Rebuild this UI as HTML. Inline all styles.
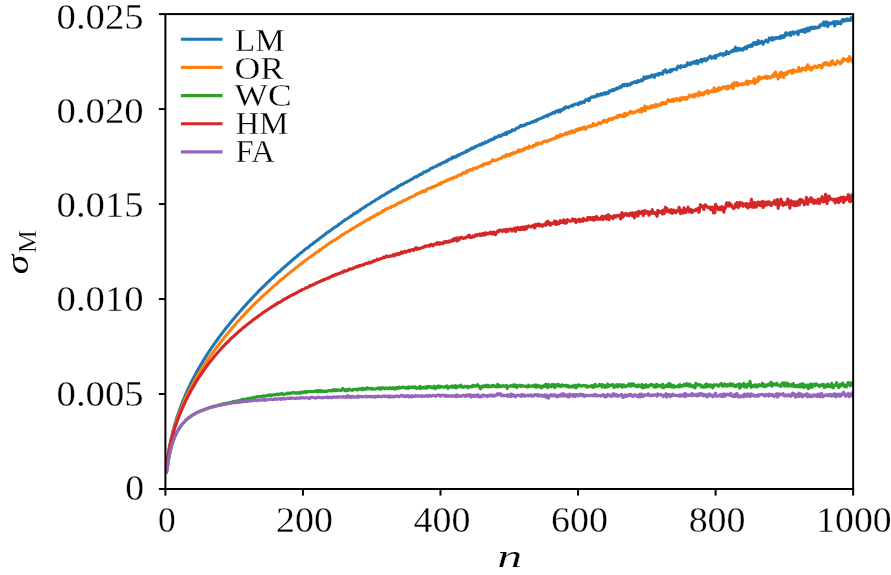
<!DOCTYPE html>
<html><head><meta charset="utf-8"><title>sigma_M vs n</title>
<style>
html,body{margin:0;padding:0;background:#fff;}
svg{display:block;}
text{font-family:"Liberation Serif","DejaVu Serif",serif;fill:#000;stroke:#fff;stroke-width:0.3px;}
</style></head><body>
<svg width="891" height="575" viewBox="0 0 891 575">
<rect width="891" height="575" fill="#fff"/>
<defs><clipPath id="ax"><rect x="165.4" y="14.1" width="687.75" height="474.9"/></clipPath></defs>
<g clip-path="url(#ax)" fill="none" stroke-width="3.1" stroke-linejoin="round" stroke-linecap="butt">
<path d="M166.1 472.5 L166.8 465.0 L167.5 459.3 L168.2 454.5 L168.8 450.3 L169.5 446.5 L170.2 443.0 L170.9 439.8 L171.6 436.8 L172.3 433.9 L173.0 431.2 L173.7 428.6 L174.3 426.1 L175.0 423.7 L175.7 421.4 L176.4 419.2 L177.1 417.0 L177.8 414.9 L178.5 412.9 L179.2 411.0 L179.8 409.0 L180.5 407.2 L181.2 405.3 L181.9 403.6 L182.6 401.8 L183.3 400.1 L184.0 398.4 L184.7 396.8 L185.3 395.2 L186.0 393.6 L186.7 392.1 L187.4 390.5 L188.1 389.0 L188.8 387.5 L189.5 386.1 L190.2 384.7 L190.8 383.2 L191.5 381.8 L192.2 380.5 L192.9 379.1 L193.6 377.8 L194.3 376.5 L195.0 375.2 L195.7 373.9 L196.3 372.6 L197.0 371.4 L197.7 370.1 L198.4 368.9 L199.1 367.7 L199.8 366.5 L200.5 365.3 L201.2 364.2 L201.9 363.0 L202.5 361.9 L203.2 360.7 L203.9 359.6 L204.6 358.5 L205.3 357.4 L206.0 356.3 L206.7 355.2 L207.4 354.2 L208.0 353.1 L208.7 352.1 L209.4 351.0 L210.1 350.0 L210.8 349.0 L211.5 347.9 L212.2 346.9 L212.9 346.0 L213.5 345.0 L214.2 344.0 L214.9 343.1 L215.6 342.1 L216.3 341.1 L217.0 340.1 L217.7 339.2 L218.4 338.3 L219.0 337.3 L219.7 336.4 L220.4 335.4 L221.1 334.6 L221.8 333.7 L222.5 332.7 L223.2 331.9 L223.9 331.0 L224.5 330.1 L225.2 329.2 L225.9 328.3 L226.6 327.4 L227.3 326.6 L228.0 325.7 L228.7 324.9 L229.4 324.1 L230.0 323.2 L230.7 322.4 L231.4 321.5 L232.1 320.7 L232.8 319.8 L233.5 319.1 L234.2 318.3 L234.9 317.4 L235.6 316.6 L236.2 315.8 L236.9 314.9 L237.6 314.2 L238.3 313.4 L239.0 312.6 L239.7 311.8 L240.4 311.0 L241.1 310.2 L241.7 309.4 L242.4 308.6 L243.1 307.9 L243.8 307.1 L244.5 306.3 L245.2 305.6 L245.9 304.8 L246.6 304.1 L247.2 303.3 L247.9 302.6 L248.6 301.8 L249.3 301.1 L250.0 300.3 L250.7 299.7 L251.4 298.9 L252.1 298.1 L252.7 297.5 L253.4 296.6 L254.1 296.1 L254.8 295.2 L255.5 294.6 L256.2 293.7 L256.9 293.1 L257.6 292.5 L258.2 291.6 L258.9 290.9 L259.6 290.3 L260.3 289.6 L261.0 288.9 L261.7 288.3 L262.4 287.5 L263.1 286.9 L263.7 286.2 L264.4 285.6 L265.1 284.9 L265.8 284.3 L266.5 283.4 L267.2 282.9 L267.9 282.1 L268.6 281.6 L269.3 281.0 L269.9 280.3 L270.6 279.7 L271.3 279.0 L272.0 278.3 L272.7 277.7 L273.4 277.1 L274.1 276.4 L274.8 275.6 L275.4 275.1 L276.1 274.5 L276.8 273.8 L277.5 273.1 L278.2 272.7 L278.9 272.0 L279.6 271.4 L280.3 270.9 L280.9 270.0 L281.6 269.5 L282.3 268.8 L283.0 268.3 L283.7 267.6 L284.4 267.1 L285.1 266.4 L285.8 265.9 L286.4 265.3 L287.1 264.5 L287.8 264.1 L288.5 263.4 L289.2 262.8 L289.9 262.3 L290.6 261.7 L291.3 261.0 L291.9 260.5 L292.6 259.9 L293.3 259.3 L294.0 258.6 L294.7 258.0 L295.4 257.5 L296.1 257.0 L296.8 256.6 L297.4 255.8 L298.1 255.2 L298.8 254.7 L299.5 254.0 L300.2 253.5 L300.9 252.9 L301.6 252.3 L302.3 251.9 L303.0 251.1 L303.6 250.9 L304.3 250.1 L305.0 249.6 L305.7 249.1 L306.4 248.4 L307.1 247.9 L307.8 247.7 L308.5 247.2 L309.1 246.3 L309.8 246.0 L310.5 245.3 L311.2 244.7 L311.9 244.5 L312.6 244.0 L313.3 243.1 L314.0 242.7 L314.6 242.2 L315.3 241.6 L316.0 241.2 L316.7 240.8 L317.4 240.1 L318.1 239.7 L318.8 239.2 L319.5 238.4 L320.1 238.0 L320.8 237.4 L321.5 237.0 L322.2 236.5 L322.9 236.0 L323.6 235.5 L324.3 234.8 L325.0 234.5 L325.6 233.8 L326.3 233.3 L327.0 232.5 L327.7 232.5 L328.4 231.7 L329.1 231.4 L329.8 230.9 L330.5 230.6 L331.1 230.0 L331.8 229.3 L332.5 228.9 L333.2 228.4 L333.9 228.0 L334.6 227.3 L335.3 227.0 L336.0 226.8 L336.6 226.1 L337.3 225.8 L338.0 225.5 L338.7 224.5 L339.4 223.8 L340.1 223.5 L340.8 223.2 L341.5 222.8 L342.2 221.9 L342.8 221.5 L343.5 221.1 L344.2 220.6 L344.9 220.2 L345.6 219.5 L346.3 219.2 L347.0 218.8 L347.7 218.5 L348.3 217.8 L349.0 217.5 L349.7 216.7 L350.4 216.6 L351.1 216.0 L351.8 215.5 L352.5 215.3 L353.2 214.3 L353.8 213.8 L354.5 213.8 L355.2 213.1 L355.9 212.7 L356.6 212.9 L357.3 211.8 L358.0 211.5 L358.7 211.0 L359.3 210.8 L360.0 210.1 L360.7 209.7 L361.4 209.0 L362.1 208.7 L362.8 208.3 L363.5 207.5 L364.2 207.4 L364.8 206.9 L365.5 206.8 L366.2 205.7 L366.9 205.4 L367.6 205.0 L368.3 204.6 L369.0 204.3 L369.7 203.9 L370.3 203.5 L371.0 203.1 L371.7 202.6 L372.4 201.9 L373.1 201.6 L373.8 201.3 L374.5 201.0 L375.2 200.5 L375.9 199.6 L376.5 199.4 L377.2 199.1 L377.9 198.7 L378.6 198.5 L379.3 197.8 L380.0 197.1 L380.7 197.0 L381.4 196.5 L382.0 196.1 L382.7 195.6 L383.4 195.6 L384.1 194.9 L384.8 194.7 L385.5 193.9 L386.2 193.9 L386.9 193.2 L387.5 192.5 L388.2 192.6 L388.9 192.2 L389.6 191.6 L390.3 191.2 L391.0 191.1 L391.7 190.3 L392.4 189.5 L393.0 189.7 L393.7 189.3 L394.4 189.1 L395.1 188.3 L395.8 188.4 L396.5 187.9 L397.2 186.9 L397.9 187.1 L398.5 186.1 L399.2 185.7 L399.9 185.6 L400.6 185.1 L401.3 184.4 L402.0 184.6 L402.7 184.3 L403.4 184.1 L404.0 183.3 L404.7 182.6 L405.4 182.3 L406.1 182.5 L406.8 182.1 L407.5 181.6 L408.2 181.1 L408.9 180.9 L409.6 180.4 L410.2 180.0 L410.9 179.7 L411.6 179.3 L412.3 178.9 L413.0 178.5 L413.7 178.0 L414.4 177.1 L415.1 177.1 L415.7 176.9 L416.4 177.1 L417.1 176.0 L417.8 176.3 L418.5 175.8 L419.2 174.8 L419.9 174.4 L420.6 174.4 L421.2 174.4 L421.9 173.6 L422.6 173.4 L423.3 172.7 L424.0 171.8 L424.7 172.0 L425.4 172.0 L426.1 171.8 L426.7 171.0 L427.4 170.8 L428.1 170.8 L428.8 170.0 L429.5 170.0 L430.2 168.9 L430.9 168.5 L431.6 168.1 L432.2 168.3 L432.9 167.5 L433.6 167.3 L434.3 167.1 L435.0 166.7 L435.7 166.7 L436.4 166.4 L437.1 165.3 L437.7 165.3 L438.4 164.9 L439.1 164.3 L439.8 164.9 L440.5 164.2 L441.2 163.6 L441.9 163.2 L442.6 163.1 L443.3 162.3 L443.9 162.2 L444.6 162.3 L445.3 161.9 L446.0 161.0 L446.7 160.7 L447.4 161.2 L448.1 159.7 L448.8 159.6 L449.4 159.0 L450.1 159.3 L450.8 158.9 L451.5 158.8 L452.2 157.2 L452.9 157.9 L453.6 156.9 L454.3 157.4 L454.9 156.8 L455.6 157.2 L456.3 156.3 L457.0 155.5 L457.7 156.0 L458.4 154.7 L459.1 154.7 L459.8 154.9 L460.4 154.2 L461.1 153.8 L461.8 153.4 L462.5 153.2 L463.2 153.1 L463.9 152.5 L464.6 152.4 L465.3 152.2 L465.9 151.4 L466.6 150.6 L467.3 151.3 L468.0 150.3 L468.7 150.3 L469.4 150.2 L470.1 149.1 L470.8 149.2 L471.4 148.1 L472.1 148.7 L472.8 147.9 L473.5 147.9 L474.2 147.7 L474.9 146.8 L475.6 146.7 L476.3 146.1 L477.0 145.9 L477.6 146.0 L478.3 145.3 L479.0 145.0 L479.7 144.3 L480.4 144.8 L481.1 144.1 L481.8 144.6 L482.5 143.3 L483.1 143.7 L483.8 143.7 L484.5 142.7 L485.2 141.9 L485.9 142.6 L486.6 142.2 L487.3 141.8 L488.0 141.6 L488.6 140.6 L489.3 140.8 L490.0 140.5 L490.7 139.6 L491.4 139.9 L492.1 139.0 L492.8 139.4 L493.5 139.1 L494.1 139.0 L494.8 137.0 L495.5 137.7 L496.2 137.2 L496.9 137.1 L497.6 136.8 L498.3 136.5 L499.0 135.4 L499.6 136.4 L500.3 136.3 L501.0 135.9 L501.7 135.6 L502.4 134.4 L503.1 134.1 L503.8 134.6 L504.5 134.6 L505.1 133.8 L505.8 132.7 L506.5 134.4 L507.2 132.4 L507.9 132.8 L508.6 131.5 L509.3 132.3 L510.0 131.6 L510.7 131.8 L511.3 131.4 L512.0 129.8 L512.7 129.8 L513.4 130.1 L514.1 130.0 L514.8 130.1 L515.5 129.1 L516.2 128.5 L516.8 128.2 L517.5 127.9 L518.2 128.0 L518.9 127.2 L519.6 126.8 L520.3 125.9 L521.0 125.3 L521.7 126.1 L522.3 126.1 L523.0 125.4 L523.7 125.5 L524.4 125.3 L525.1 124.6 L525.8 124.8 L526.5 123.8 L527.2 123.9 L527.8 123.4 L528.5 123.4 L529.2 123.3 L529.9 123.3 L530.6 122.6 L531.3 122.5 L532.0 121.7 L532.7 121.7 L533.3 122.0 L534.0 121.0 L534.7 121.4 L535.4 120.8 L536.1 120.4 L536.8 120.9 L537.5 119.5 L538.2 119.2 L538.8 119.1 L539.5 119.0 L540.2 118.6 L540.9 118.5 L541.6 117.9 L542.3 117.9 L543.0 117.2 L543.7 117.5 L544.4 116.4 L545.0 116.1 L545.7 116.1 L546.4 116.0 L547.1 115.2 L547.8 116.3 L548.5 114.7 L549.2 114.6 L549.9 114.2 L550.5 113.8 L551.2 114.2 L551.9 113.6 L552.6 112.7 L553.3 112.5 L554.0 112.5 L554.7 113.2 L555.4 111.7 L556.0 111.1 L556.7 111.0 L557.4 111.1 L558.1 111.8 L558.8 110.2 L559.5 110.6 L560.2 111.8 L560.9 109.8 L561.5 110.6 L562.2 110.1 L562.9 109.4 L563.6 108.2 L564.3 108.8 L565.0 108.1 L565.7 106.9 L566.4 106.7 L567.0 107.5 L567.7 107.4 L568.4 107.7 L569.1 107.1 L569.8 106.4 L570.5 106.0 L571.2 106.0 L571.9 105.2 L572.5 106.1 L573.2 105.5 L573.9 104.8 L574.6 104.6 L575.3 104.0 L576.0 104.3 L576.7 104.3 L577.4 103.7 L578.0 104.4 L578.7 104.4 L579.4 102.7 L580.1 102.9 L580.8 102.2 L581.5 103.3 L582.2 102.1 L582.9 102.0 L583.6 101.8 L584.2 102.4 L584.9 100.8 L585.6 99.9 L586.3 99.8 L587.0 100.3 L587.7 99.7 L588.4 98.7 L589.1 100.7 L589.7 98.8 L590.4 97.9 L591.1 97.5 L591.8 96.7 L592.5 96.8 L593.2 97.2 L593.9 96.8 L594.6 96.2 L595.2 96.9 L595.9 96.4 L596.6 95.5 L597.3 94.5 L598.0 95.8 L598.7 95.4 L599.4 95.2 L600.1 94.2 L600.7 94.9 L601.4 93.6 L602.1 95.0 L602.8 94.3 L603.5 94.0 L604.2 93.0 L604.9 92.6 L605.6 94.2 L606.2 93.7 L606.9 92.5 L607.6 93.0 L608.3 93.3 L609.0 91.1 L609.7 91.1 L610.4 90.7 L611.1 91.2 L611.7 90.0 L612.4 90.5 L613.1 89.3 L613.8 90.4 L614.5 90.1 L615.2 89.0 L615.9 89.3 L616.6 88.1 L617.3 88.1 L617.9 88.7 L618.6 87.8 L619.3 87.8 L620.0 86.6 L620.7 87.6 L621.4 87.0 L622.1 85.6 L622.8 84.6 L623.4 84.6 L624.1 85.8 L624.8 85.3 L625.5 84.1 L626.2 85.3 L626.9 85.8 L627.6 84.8 L628.3 84.1 L628.9 84.8 L629.6 85.1 L630.3 84.8 L631.0 83.0 L631.7 83.8 L632.4 82.9 L633.1 82.5 L633.8 82.0 L634.4 82.4 L635.1 81.7 L635.8 82.5 L636.5 81.9 L637.2 82.5 L637.9 80.5 L638.6 81.1 L639.3 81.4 L639.9 81.0 L640.6 80.5 L641.3 79.6 L642.0 81.0 L642.7 80.2 L643.4 79.5 L644.1 76.9 L644.8 78.0 L645.4 78.6 L646.1 77.8 L646.8 76.5 L647.5 78.0 L648.2 77.8 L648.9 76.4 L649.6 76.8 L650.3 76.4 L651.0 77.2 L651.6 75.1 L652.3 75.0 L653.0 75.7 L653.7 75.4 L654.4 77.4 L655.1 74.8 L655.8 75.1 L656.5 74.4 L657.1 74.0 L657.8 74.3 L658.5 75.2 L659.2 73.4 L659.9 74.0 L660.6 73.5 L661.3 73.4 L662.0 73.0 L662.6 74.2 L663.3 71.2 L664.0 71.7 L664.7 70.9 L665.4 69.8 L666.1 71.3 L666.8 72.7 L667.5 71.6 L668.1 71.5 L668.8 70.9 L669.5 70.3 L670.2 72.0 L670.9 69.8 L671.6 71.1 L672.3 69.4 L673.0 69.6 L673.6 69.6 L674.3 69.2 L675.0 69.3 L675.7 69.0 L676.4 69.9 L677.1 68.3 L677.8 66.5 L678.5 66.0 L679.1 66.5 L679.8 66.8 L680.5 67.9 L681.2 65.7 L681.9 66.8 L682.6 66.6 L683.3 66.5 L684.0 65.9 L684.7 66.3 L685.3 65.7 L686.0 66.3 L686.7 65.5 L687.4 62.8 L688.1 64.5 L688.8 64.6 L689.5 63.8 L690.2 63.2 L690.8 64.5 L691.5 63.5 L692.2 62.4 L692.9 62.9 L693.6 62.9 L694.3 61.5 L695.0 63.3 L695.7 62.5 L696.3 62.9 L697.0 60.7 L697.7 63.7 L698.4 62.3 L699.1 61.8 L699.8 60.4 L700.5 60.3 L701.2 59.3 L701.8 61.9 L702.5 59.3 L703.2 60.0 L703.9 60.3 L704.6 58.9 L705.3 60.0 L706.0 60.8 L706.7 58.8 L707.3 59.5 L708.0 58.6 L708.7 57.5 L709.4 57.5 L710.1 56.0 L710.8 57.5 L711.5 58.3 L712.2 57.3 L712.8 57.6 L713.5 57.8 L714.2 56.0 L714.9 56.9 L715.6 58.1 L716.3 55.4 L717.0 55.9 L717.7 55.2 L718.4 55.3 L719.0 54.5 L719.7 54.9 L720.4 53.6 L721.1 54.3 L721.8 54.2 L722.5 53.8 L723.2 55.6 L723.9 54.1 L724.5 53.9 L725.2 53.2 L725.9 54.5 L726.6 51.4 L727.3 52.5 L728.0 53.5 L728.7 53.7 L729.4 52.3 L730.0 52.1 L730.7 52.3 L731.4 51.1 L732.1 51.6 L732.8 50.0 L733.5 51.2 L734.2 50.3 L734.9 49.1 L735.5 47.2 L736.2 50.9 L736.9 50.0 L737.6 50.0 L738.3 48.3 L739.0 50.3 L739.7 49.4 L740.4 48.8 L741.0 49.8 L741.7 49.5 L742.4 48.7 L743.1 50.2 L743.8 49.1 L744.5 47.8 L745.2 47.1 L745.9 47.2 L746.5 48.8 L747.2 47.3 L747.9 45.7 L748.6 45.8 L749.3 46.3 L750.0 46.7 L750.7 44.8 L751.4 45.8 L752.1 46.2 L752.7 45.5 L753.4 42.8 L754.1 43.9 L754.8 42.5 L755.5 44.3 L756.2 42.6 L756.9 44.3 L757.6 43.7 L758.2 40.6 L758.9 42.0 L759.6 43.3 L760.3 42.7 L761.0 42.1 L761.7 41.1 L762.4 42.9 L763.1 44.1 L763.7 42.5 L764.4 41.9 L765.1 41.6 L765.8 40.2 L766.5 41.2 L767.2 40.6 L767.9 42.2 L768.6 40.0 L769.2 38.1 L769.9 39.3 L770.6 39.7 L771.3 39.8 L772.0 37.6 L772.7 40.2 L773.4 39.2 L774.1 38.4 L774.7 37.8 L775.4 38.9 L776.1 37.6 L776.8 38.2 L777.5 37.5 L778.2 37.8 L778.9 38.4 L779.6 37.1 L780.2 36.3 L780.9 38.2 L781.6 37.2 L782.3 35.7 L783.0 37.5 L783.7 35.9 L784.4 37.1 L785.1 34.2 L785.8 32.7 L786.4 32.7 L787.1 35.0 L787.8 33.8 L788.5 34.4 L789.2 34.3 L789.9 32.6 L790.6 35.6 L791.3 32.8 L791.9 33.8 L792.6 31.8 L793.3 33.1 L794.0 34.0 L794.7 32.8 L795.4 32.0 L796.1 32.5 L796.8 31.8 L797.4 32.7 L798.1 34.6 L798.8 30.8 L799.5 31.1 L800.2 31.4 L800.9 31.3 L801.6 30.1 L802.3 31.5 L802.9 31.5 L803.6 31.2 L804.3 29.3 L805.0 32.5 L805.7 29.0 L806.4 30.6 L807.1 31.1 L807.8 28.1 L808.4 29.6 L809.1 30.8 L809.8 29.4 L810.5 27.5 L811.2 27.2 L811.9 28.7 L812.6 27.7 L813.3 27.1 L813.9 28.5 L814.6 27.0 L815.3 27.5 L816.0 28.1 L816.7 27.9 L817.4 27.1 L818.1 26.8 L818.8 27.6 L819.5 27.1 L820.1 24.9 L820.8 25.8 L821.5 24.7 L822.2 23.9 L822.9 24.5 L823.6 22.1 L824.3 25.8 L825.0 23.3 L825.6 25.0 L826.3 21.9 L827.0 22.0 L827.7 26.6 L828.4 25.3 L829.1 23.4 L829.8 23.1 L830.5 23.1 L831.1 23.9 L831.8 23.3 L832.5 22.5 L833.2 23.3 L833.9 21.7 L834.6 25.9 L835.3 22.1 L836.0 24.2 L836.6 21.5 L837.3 22.8 L838.0 23.5 L838.7 21.9 L839.4 23.4 L840.1 23.3 L840.8 23.9 L841.5 21.3 L842.1 20.3 L842.8 19.5 L843.5 21.1 L844.2 19.6 L844.9 21.0 L845.6 20.7 L846.3 19.7 L847.0 18.8 L847.6 20.6 L848.3 20.2 L849.0 19.6 L849.7 19.2 L850.4 20.4 L851.1 17.7 L851.8 19.3 L852.5 18.1 L853.1 19.8" stroke="#1f77b4"/>
<path d="M166.1 472.8 L166.8 465.3 L167.5 459.7 L168.2 455.0 L168.8 450.9 L169.5 447.2 L170.2 443.9 L170.9 440.8 L171.6 437.9 L172.3 435.2 L173.0 432.6 L173.7 430.1 L174.3 427.8 L175.0 425.6 L175.7 423.4 L176.4 421.3 L177.1 419.3 L177.8 417.4 L178.5 415.5 L179.2 413.6 L179.8 411.8 L180.5 410.1 L181.2 408.4 L181.9 406.7 L182.6 405.1 L183.3 403.5 L184.0 402.0 L184.7 400.5 L185.3 399.0 L186.0 397.5 L186.7 396.0 L187.4 394.6 L188.1 393.2 L188.8 391.9 L189.5 390.5 L190.2 389.1 L190.8 387.8 L191.5 386.5 L192.2 385.2 L192.9 384.0 L193.6 382.8 L194.3 381.5 L195.0 380.3 L195.7 379.1 L196.3 377.9 L197.0 376.7 L197.7 375.6 L198.4 374.4 L199.1 373.3 L199.8 372.1 L200.5 371.0 L201.2 369.9 L201.9 368.8 L202.5 367.7 L203.2 366.6 L203.9 365.6 L204.6 364.5 L205.3 363.5 L206.0 362.5 L206.7 361.4 L207.4 360.4 L208.0 359.4 L208.7 358.4 L209.4 357.4 L210.1 356.4 L210.8 355.4 L211.5 354.5 L212.2 353.5 L212.9 352.6 L213.5 351.6 L214.2 350.6 L214.9 349.7 L215.6 348.8 L216.3 347.8 L217.0 346.9 L217.7 346.1 L218.4 345.1 L219.0 344.2 L219.7 343.3 L220.4 342.4 L221.1 341.6 L221.8 340.7 L222.5 339.8 L223.2 339.0 L223.9 338.1 L224.5 337.2 L225.2 336.3 L225.9 335.5 L226.6 334.8 L227.3 333.9 L228.0 333.0 L228.7 332.2 L229.4 331.4 L230.0 330.6 L230.7 329.7 L231.4 328.9 L232.1 328.2 L232.8 327.2 L233.5 326.4 L234.2 325.7 L234.9 324.9 L235.6 324.2 L236.2 323.3 L236.9 322.6 L237.6 321.8 L238.3 321.0 L239.0 320.3 L239.7 319.5 L240.4 318.7 L241.1 318.0 L241.7 317.3 L242.4 316.7 L243.1 315.8 L243.8 315.2 L244.5 314.3 L245.2 313.5 L245.9 312.8 L246.6 312.2 L247.2 311.5 L247.9 310.7 L248.6 310.0 L249.3 309.3 L250.0 308.6 L250.7 307.8 L251.4 307.2 L252.1 306.4 L252.7 305.8 L253.4 305.1 L254.1 304.5 L254.8 303.7 L255.5 303.0 L256.2 302.4 L256.9 301.8 L257.6 301.2 L258.2 300.3 L258.9 299.8 L259.6 299.2 L260.3 298.4 L261.0 297.7 L261.7 297.1 L262.4 296.6 L263.1 295.7 L263.7 295.2 L264.4 294.6 L265.1 294.0 L265.8 293.5 L266.5 292.9 L267.2 292.1 L267.9 291.5 L268.6 290.9 L269.3 290.4 L269.9 289.8 L270.6 289.0 L271.3 288.5 L272.0 287.7 L272.7 287.1 L273.4 286.3 L274.1 285.9 L274.8 285.4 L275.4 284.9 L276.1 284.5 L276.8 283.6 L277.5 283.0 L278.2 282.3 L278.9 281.7 L279.6 281.1 L280.3 280.6 L280.9 279.9 L281.6 279.3 L282.3 278.9 L283.0 278.3 L283.7 277.8 L284.4 276.9 L285.1 276.4 L285.8 275.9 L286.4 275.5 L287.1 274.8 L287.8 274.3 L288.5 273.7 L289.2 273.2 L289.9 272.5 L290.6 272.1 L291.3 271.4 L291.9 270.9 L292.6 270.4 L293.3 269.8 L294.0 269.4 L294.7 268.7 L295.4 268.2 L296.1 267.6 L296.8 267.2 L297.4 266.8 L298.1 265.9 L298.8 265.6 L299.5 264.8 L300.2 264.4 L300.9 264.1 L301.6 263.5 L302.3 262.9 L303.0 262.4 L303.6 261.9 L304.3 261.2 L305.0 260.8 L305.7 260.2 L306.4 259.8 L307.1 259.2 L307.8 258.9 L308.5 258.3 L309.1 257.7 L309.8 257.3 L310.5 256.8 L311.2 256.4 L311.9 255.7 L312.6 255.2 L313.3 254.8 L314.0 254.4 L314.6 253.7 L315.3 252.9 L316.0 252.9 L316.7 252.3 L317.4 251.8 L318.1 251.8 L318.8 250.8 L319.5 250.5 L320.1 249.6 L320.8 249.4 L321.5 249.0 L322.2 248.4 L322.9 247.9 L323.6 247.5 L324.3 247.0 L325.0 246.7 L325.6 246.1 L326.3 245.5 L327.0 244.8 L327.7 244.5 L328.4 244.1 L329.1 243.5 L329.8 243.0 L330.5 242.5 L331.1 242.1 L331.8 241.8 L332.5 241.3 L333.2 240.8 L333.9 240.4 L334.6 240.0 L335.3 239.7 L336.0 239.5 L336.6 238.8 L337.3 238.6 L338.0 237.8 L338.7 237.4 L339.4 237.2 L340.1 236.3 L340.8 235.9 L341.5 235.6 L342.2 234.8 L342.8 234.3 L343.5 234.5 L344.2 233.6 L344.9 233.3 L345.6 232.8 L346.3 232.3 L347.0 232.2 L347.7 231.7 L348.3 231.4 L349.0 230.9 L349.7 230.4 L350.4 230.3 L351.1 229.7 L351.8 229.0 L352.5 228.6 L353.2 228.1 L353.8 228.1 L354.5 227.5 L355.2 227.1 L355.9 226.5 L356.6 226.3 L357.3 225.6 L358.0 225.5 L358.7 225.0 L359.3 224.6 L360.0 224.0 L360.7 223.8 L361.4 223.1 L362.1 222.8 L362.8 222.5 L363.5 222.2 L364.2 221.7 L364.8 221.1 L365.5 220.7 L366.2 220.5 L366.9 220.0 L367.6 219.8 L368.3 219.1 L369.0 219.0 L369.7 219.1 L370.3 217.9 L371.0 217.8 L371.7 217.7 L372.4 217.1 L373.1 216.9 L373.8 215.8 L374.5 215.8 L375.2 215.9 L375.9 215.0 L376.5 214.8 L377.2 213.8 L377.9 214.2 L378.6 214.1 L379.3 213.2 L380.0 212.9 L380.7 212.6 L381.4 212.6 L382.0 211.5 L382.7 210.7 L383.4 211.3 L384.1 210.2 L384.8 210.2 L385.5 209.1 L386.2 209.3 L386.9 209.1 L387.5 208.4 L388.2 208.2 L388.9 208.2 L389.6 207.5 L390.3 207.5 L391.0 207.5 L391.7 206.1 L392.4 206.4 L393.0 206.2 L393.7 205.5 L394.4 205.7 L395.1 205.3 L395.8 204.7 L396.5 204.5 L397.2 203.9 L397.9 203.3 L398.5 203.4 L399.2 202.8 L399.9 202.4 L400.6 202.6 L401.3 201.9 L402.0 201.9 L402.7 200.8 L403.4 200.7 L404.0 200.5 L404.7 200.5 L405.4 199.8 L406.1 199.8 L406.8 199.0 L407.5 198.9 L408.2 198.8 L408.9 197.9 L409.6 197.6 L410.2 197.7 L410.9 196.9 L411.6 197.0 L412.3 196.7 L413.0 196.2 L413.7 196.2 L414.4 195.8 L415.1 195.3 L415.7 194.3 L416.4 194.0 L417.1 194.3 L417.8 193.4 L418.5 193.6 L419.2 193.1 L419.9 192.7 L420.6 192.5 L421.2 191.5 L421.9 191.9 L422.6 192.1 L423.3 190.8 L424.0 191.1 L424.7 190.8 L425.4 191.5 L426.1 189.7 L426.7 189.4 L427.4 189.1 L428.1 188.8 L428.8 188.2 L429.5 188.5 L430.2 187.8 L430.9 188.1 L431.6 187.7 L432.2 186.8 L432.9 186.8 L433.6 187.2 L434.3 186.2 L435.0 186.1 L435.7 186.0 L436.4 185.2 L437.1 185.1 L437.7 185.2 L438.4 184.7 L439.1 183.4 L439.8 184.4 L440.5 183.3 L441.2 182.8 L441.9 182.4 L442.6 182.9 L443.3 182.3 L443.9 181.8 L444.6 181.2 L445.3 181.5 L446.0 181.4 L446.7 180.2 L447.4 179.8 L448.1 179.9 L448.8 179.9 L449.4 179.3 L450.1 179.1 L450.8 178.4 L451.5 178.9 L452.2 178.1 L452.9 178.0 L453.6 178.1 L454.3 177.2 L454.9 177.0 L455.6 177.0 L456.3 176.4 L457.0 176.9 L457.7 176.0 L458.4 175.4 L459.1 175.1 L459.8 174.6 L460.4 175.2 L461.1 175.0 L461.8 174.0 L462.5 173.6 L463.2 172.5 L463.9 172.8 L464.6 173.1 L465.3 172.2 L465.9 172.6 L466.6 172.7 L467.3 170.6 L468.0 171.3 L468.7 170.7 L469.4 170.4 L470.1 169.5 L470.8 169.9 L471.4 169.3 L472.1 170.0 L472.8 169.9 L473.5 168.4 L474.2 168.0 L474.9 168.3 L475.6 168.2 L476.3 168.0 L477.0 168.2 L477.6 167.0 L478.3 167.0 L479.0 166.8 L479.7 166.5 L480.4 165.8 L481.1 165.7 L481.8 165.4 L482.5 165.9 L483.1 164.8 L483.8 163.7 L484.5 164.7 L485.2 164.4 L485.9 163.6 L486.6 163.3 L487.3 163.2 L488.0 164.0 L488.6 162.7 L489.3 163.2 L490.0 162.6 L490.7 161.7 L491.4 161.7 L492.1 160.9 L492.8 159.6 L493.5 160.4 L494.1 160.2 L494.8 160.8 L495.5 160.3 L496.2 160.3 L496.9 159.8 L497.6 159.8 L498.3 159.2 L499.0 158.7 L499.6 158.8 L500.3 158.8 L501.0 158.5 L501.7 157.4 L502.4 157.3 L503.1 156.4 L503.8 156.2 L504.5 156.6 L505.1 155.9 L505.8 156.7 L506.5 154.5 L507.2 154.7 L507.9 155.2 L508.6 155.6 L509.3 154.5 L510.0 155.5 L510.7 154.4 L511.3 153.4 L512.0 153.5 L512.7 153.6 L513.4 152.6 L514.1 153.5 L514.8 152.5 L515.5 152.6 L516.2 152.5 L516.8 151.6 L517.5 152.2 L518.2 150.2 L518.9 151.4 L519.6 149.8 L520.3 151.2 L521.0 150.1 L521.7 150.9 L522.3 150.6 L523.0 149.5 L523.7 148.9 L524.4 149.8 L525.1 148.0 L525.8 148.8 L526.5 148.0 L527.2 147.7 L527.8 147.3 L528.5 148.4 L529.2 146.1 L529.9 146.6 L530.6 146.8 L531.3 147.0 L532.0 147.2 L532.7 146.9 L533.3 145.4 L534.0 145.6 L534.7 145.8 L535.4 145.2 L536.1 143.7 L536.8 144.7 L537.5 144.6 L538.2 143.0 L538.8 143.3 L539.5 143.3 L540.2 143.4 L540.9 143.8 L541.6 143.3 L542.3 142.6 L543.0 142.1 L543.7 141.5 L544.4 141.2 L545.0 141.1 L545.7 140.9 L546.4 141.3 L547.1 141.7 L547.8 140.5 L548.5 140.7 L549.2 140.2 L549.9 139.7 L550.5 140.1 L551.2 140.0 L551.9 139.2 L552.6 138.7 L553.3 139.0 L554.0 138.1 L554.7 138.2 L555.4 138.4 L556.0 137.5 L556.7 136.0 L557.4 137.5 L558.1 135.9 L558.8 135.4 L559.5 135.1 L560.2 136.5 L560.9 134.5 L561.5 135.5 L562.2 135.5 L562.9 135.2 L563.6 134.4 L564.3 134.5 L565.0 134.3 L565.7 133.1 L566.4 134.3 L567.0 134.3 L567.7 132.6 L568.4 132.6 L569.1 132.1 L569.8 133.3 L570.5 131.6 L571.2 131.8 L571.9 130.9 L572.5 132.6 L573.2 131.3 L573.9 131.3 L574.6 132.0 L575.3 131.1 L576.0 129.7 L576.7 130.5 L577.4 130.6 L578.0 129.2 L578.7 128.8 L579.4 128.5 L580.1 129.6 L580.8 128.8 L581.5 127.9 L582.2 128.9 L582.9 128.8 L583.6 127.6 L584.2 126.8 L584.9 128.5 L585.6 129.3 L586.3 128.2 L587.0 127.7 L587.7 126.8 L588.4 126.2 L589.1 126.5 L589.7 126.7 L590.4 125.9 L591.1 126.5 L591.8 125.6 L592.5 125.9 L593.2 123.4 L593.9 124.5 L594.6 125.4 L595.2 125.2 L595.9 124.5 L596.6 125.0 L597.3 124.1 L598.0 123.9 L598.7 122.5 L599.4 123.4 L600.1 123.5 L600.7 123.6 L601.4 123.2 L602.1 122.2 L602.8 122.1 L603.5 120.7 L604.2 121.8 L604.9 120.3 L605.6 120.7 L606.2 120.7 L606.9 122.1 L607.6 121.3 L608.3 119.5 L609.0 118.8 L609.7 119.5 L610.4 118.6 L611.1 119.4 L611.7 119.2 L612.4 119.2 L613.1 117.8 L613.8 118.1 L614.5 118.2 L615.2 117.9 L615.9 117.0 L616.6 116.9 L617.3 117.6 L617.9 115.3 L618.6 116.3 L619.3 116.4 L620.0 115.0 L620.7 115.1 L621.4 115.8 L622.1 115.0 L622.8 116.4 L623.4 115.7 L624.1 116.6 L624.8 113.4 L625.5 115.9 L626.2 113.7 L626.9 114.7 L627.6 114.8 L628.3 113.8 L628.9 113.3 L629.6 112.7 L630.3 111.4 L631.0 112.7 L631.7 112.0 L632.4 113.1 L633.1 112.0 L633.8 112.3 L634.4 112.6 L635.1 112.0 L635.8 111.9 L636.5 111.4 L637.2 110.7 L637.9 111.3 L638.6 111.2 L639.3 109.8 L639.9 111.8 L640.6 110.6 L641.3 108.5 L642.0 111.9 L642.7 109.7 L643.4 108.3 L644.1 110.1 L644.8 106.1 L645.4 110.7 L646.1 107.1 L646.8 106.9 L647.5 107.3 L648.2 108.1 L648.9 107.4 L649.6 108.1 L650.3 106.3 L651.0 107.7 L651.6 106.9 L652.3 105.5 L653.0 107.1 L653.7 106.5 L654.4 105.8 L655.1 106.9 L655.8 104.4 L656.5 104.8 L657.1 106.2 L657.8 104.9 L658.5 105.4 L659.2 105.2 L659.9 104.3 L660.6 105.0 L661.3 103.1 L662.0 104.4 L662.6 102.6 L663.3 103.4 L664.0 102.6 L664.7 103.5 L665.4 103.3 L666.1 103.6 L666.8 101.8 L667.5 101.2 L668.1 99.7 L668.8 100.3 L669.5 101.0 L670.2 101.5 L670.9 100.7 L671.6 101.0 L672.3 99.4 L673.0 99.8 L673.6 101.3 L674.3 100.8 L675.0 98.9 L675.7 99.7 L676.4 100.2 L677.1 98.5 L677.8 99.9 L678.5 99.6 L679.1 99.6 L679.8 100.8 L680.5 97.8 L681.2 99.7 L681.9 98.9 L682.6 99.1 L683.3 97.4 L684.0 97.9 L684.7 97.8 L685.3 99.1 L686.0 97.6 L686.7 99.1 L687.4 97.3 L688.1 97.0 L688.8 97.2 L689.5 94.9 L690.2 96.2 L690.8 95.8 L691.5 96.1 L692.2 96.4 L692.9 95.2 L693.6 94.6 L694.3 97.1 L695.0 94.5 L695.7 94.6 L696.3 93.9 L697.0 94.3 L697.7 95.9 L698.4 95.5 L699.1 92.0 L699.8 93.6 L700.5 95.0 L701.2 93.0 L701.8 93.4 L702.5 94.6 L703.2 95.0 L703.9 94.3 L704.6 92.2 L705.3 92.1 L706.0 92.1 L706.7 91.3 L707.3 90.5 L708.0 93.4 L708.7 91.3 L709.4 91.8 L710.1 92.1 L710.8 91.2 L711.5 90.4 L712.2 90.5 L712.8 91.7 L713.5 90.8 L714.2 87.9 L714.9 91.1 L715.6 91.5 L716.3 89.4 L717.0 88.9 L717.7 88.7 L718.4 90.3 L719.0 87.7 L719.7 89.4 L720.4 89.7 L721.1 89.2 L721.8 88.3 L722.5 87.2 L723.2 87.0 L723.9 87.8 L724.5 86.8 L725.2 87.9 L725.9 86.9 L726.6 89.0 L727.3 88.9 L728.0 86.1 L728.7 88.3 L729.4 86.8 L730.0 86.4 L730.7 86.6 L731.4 86.4 L732.1 84.4 L732.8 88.7 L733.5 84.4 L734.2 82.7 L734.9 85.1 L735.5 85.1 L736.2 84.1 L736.9 82.5 L737.6 85.8 L738.3 84.3 L739.0 84.9 L739.7 83.9 L740.4 84.4 L741.0 83.8 L741.7 84.7 L742.4 83.8 L743.1 84.7 L743.8 84.3 L744.5 83.4 L745.2 83.3 L745.9 84.1 L746.5 81.0 L747.2 82.9 L747.9 84.3 L748.6 81.3 L749.3 83.1 L750.0 81.6 L750.7 82.2 L751.4 81.7 L752.1 81.5 L752.7 82.2 L753.4 81.1 L754.1 78.6 L754.8 83.7 L755.5 80.8 L756.2 80.1 L756.9 81.8 L757.6 81.9 L758.2 77.1 L758.9 80.1 L759.6 76.9 L760.3 78.4 L761.0 78.8 L761.7 78.3 L762.4 78.1 L763.1 77.2 L763.7 77.8 L764.4 78.0 L765.1 77.8 L765.8 76.0 L766.5 76.3 L767.2 78.6 L767.9 78.0 L768.6 76.7 L769.2 77.6 L769.9 77.1 L770.6 77.8 L771.3 76.9 L772.0 76.1 L772.7 75.2 L773.4 76.4 L774.1 73.5 L774.7 76.2 L775.4 72.0 L776.1 74.7 L776.8 75.3 L777.5 76.2 L778.2 79.0 L778.9 75.3 L779.6 74.9 L780.2 72.5 L780.9 76.7 L781.6 72.4 L782.3 75.0 L783.0 73.5 L783.7 77.4 L784.4 73.8 L785.1 74.1 L785.8 72.6 L786.4 73.1 L787.1 74.4 L787.8 71.5 L788.5 71.8 L789.2 71.7 L789.9 71.1 L790.6 70.7 L791.3 71.8 L791.9 73.3 L792.6 73.3 L793.3 69.8 L794.0 70.5 L794.7 71.2 L795.4 71.6 L796.1 70.9 L796.8 70.8 L797.4 71.0 L798.1 71.4 L798.8 67.5 L799.5 69.6 L800.2 70.4 L800.9 71.1 L801.6 70.2 L802.3 68.4 L802.9 68.1 L803.6 69.3 L804.3 68.8 L805.0 69.2 L805.7 70.2 L806.4 66.9 L807.1 67.9 L807.8 64.7 L808.4 68.9 L809.1 68.3 L809.8 67.0 L810.5 68.6 L811.2 70.1 L811.9 69.3 L812.6 67.6 L813.3 67.2 L813.9 67.6 L814.6 66.0 L815.3 66.1 L816.0 67.1 L816.7 67.5 L817.4 67.4 L818.1 66.3 L818.8 65.4 L819.5 66.1 L820.1 65.5 L820.8 66.4 L821.5 67.9 L822.2 67.2 L822.9 64.4 L823.6 64.7 L824.3 62.8 L825.0 64.6 L825.6 63.3 L826.3 62.5 L827.0 62.9 L827.7 65.0 L828.4 64.5 L829.1 63.8 L829.8 65.3 L830.5 63.2 L831.1 61.9 L831.8 64.1 L832.5 60.7 L833.2 63.7 L833.9 63.8 L834.6 63.9 L835.3 64.7 L836.0 63.0 L836.6 63.4 L837.3 60.8 L838.0 61.9 L838.7 61.7 L839.4 62.4 L840.1 63.9 L840.8 62.0 L841.5 62.7 L842.1 60.1 L842.8 61.5 L843.5 58.6 L844.2 59.7 L844.9 59.4 L845.6 60.1 L846.3 59.9 L847.0 59.4 L847.6 59.0 L848.3 61.5 L849.0 59.6 L849.7 56.4 L850.4 60.0 L851.1 60.1 L851.8 60.8 L852.5 61.8 L853.1 58.0" stroke="#ff7f0e"/>
<path d="M166.1 473.4 L166.8 471.4 L167.5 466.7 L168.2 462.3 L168.8 458.2 L169.5 454.7 L170.2 451.5 L170.9 448.6 L171.6 446.1 L172.3 443.8 L173.0 441.7 L173.7 439.7 L174.3 437.9 L175.0 436.3 L175.7 434.8 L176.4 433.3 L177.1 432.1 L177.8 430.8 L178.5 429.5 L179.2 428.5 L179.8 427.5 L180.5 426.5 L181.2 425.5 L181.9 424.5 L182.6 423.7 L183.3 422.9 L184.0 422.4 L184.7 421.5 L185.3 420.8 L186.0 420.1 L186.7 419.5 L187.4 418.9 L188.1 418.2 L188.8 417.7 L189.5 417.3 L190.2 416.8 L190.8 416.1 L191.5 415.9 L192.2 415.2 L192.9 414.7 L193.6 414.6 L194.3 414.1 L195.0 413.8 L195.7 413.3 L196.3 413.0 L197.0 412.5 L197.7 412.3 L198.4 412.0 L199.1 411.5 L199.8 411.4 L200.5 411.1 L201.2 410.5 L201.9 410.6 L202.5 410.3 L203.2 410.0 L203.9 409.8 L204.6 409.7 L205.3 409.0 L206.0 409.0 L206.7 408.7 L207.4 408.5 L208.0 408.3 L208.7 408.1 L209.4 407.7 L210.1 407.2 L210.8 407.2 L211.5 406.9 L212.2 407.1 L212.9 406.6 L213.5 406.6 L214.2 406.1 L214.9 406.1 L215.6 405.9 L216.3 405.7 L217.0 405.6 L217.7 405.6 L218.4 405.0 L219.0 405.2 L219.7 405.0 L220.4 404.6 L221.1 404.6 L221.8 404.2 L222.5 403.9 L223.2 403.9 L223.9 403.8 L224.5 403.7 L225.2 403.4 L225.9 403.7 L226.6 403.1 L227.3 403.2 L228.0 403.2 L228.7 402.8 L229.4 402.8 L230.0 402.5 L230.7 402.3 L231.4 402.8 L232.1 402.2 L232.8 401.6 L233.5 401.7 L234.2 401.3 L234.9 401.5 L235.6 401.7 L236.2 401.4 L236.9 400.9 L237.6 400.7 L238.3 400.9 L239.0 400.6 L239.7 400.3 L240.4 400.7 L241.1 400.2 L241.7 399.6 L242.4 399.4 L243.1 399.8 L243.8 399.2 L244.5 399.6 L245.2 399.6 L245.9 399.8 L246.6 398.9 L247.2 399.1 L247.9 398.3 L248.6 398.7 L249.3 398.5 L250.0 398.9 L250.7 397.9 L251.4 398.2 L252.1 398.0 L252.7 398.3 L253.4 397.5 L254.1 397.3 L254.8 397.5 L255.5 397.2 L256.2 397.0 L256.9 396.7 L257.6 396.9 L258.2 396.3 L258.9 396.7 L259.6 396.7 L260.3 396.6 L261.0 397.0 L261.7 396.5 L262.4 395.9 L263.1 396.0 L263.7 396.2 L264.4 395.8 L265.1 396.4 L265.8 395.9 L266.5 395.6 L267.2 395.5 L267.9 395.8 L268.6 395.1 L269.3 394.8 L269.9 395.3 L270.6 394.9 L271.3 395.4 L272.0 395.5 L272.7 394.7 L273.4 394.8 L274.1 394.7 L274.8 394.9 L275.4 394.7 L276.1 394.4 L276.8 394.1 L277.5 394.6 L278.2 394.9 L278.9 394.0 L279.6 394.1 L280.3 394.0 L280.9 394.1 L281.6 393.4 L282.3 394.1 L283.0 393.9 L283.7 394.7 L284.4 394.1 L285.1 394.2 L285.8 393.9 L286.4 393.6 L287.1 393.9 L287.8 392.9 L288.5 393.7 L289.2 393.4 L289.9 393.0 L290.6 393.5 L291.3 392.8 L291.9 392.8 L292.6 393.0 L293.3 392.3 L294.0 392.9 L294.7 392.7 L295.4 393.1 L296.1 393.3 L296.8 392.9 L297.4 392.7 L298.1 392.7 L298.8 392.3 L299.5 393.4 L300.2 393.0 L300.9 393.2 L301.6 392.0 L302.3 392.5 L303.0 392.4 L303.6 392.5 L304.3 391.7 L305.0 392.1 L305.7 391.9 L306.4 392.7 L307.1 391.6 L307.8 391.8 L308.5 391.6 L309.1 391.3 L309.8 391.7 L310.5 391.7 L311.2 391.4 L311.9 391.5 L312.6 391.7 L313.3 391.5 L314.0 391.6 L314.6 391.1 L315.3 391.0 L316.0 391.3 L316.7 390.6 L317.4 391.9 L318.1 391.4 L318.8 390.5 L319.5 391.3 L320.1 391.8 L320.8 390.6 L321.5 391.0 L322.2 391.6 L322.9 390.8 L323.6 391.5 L324.3 391.6 L325.0 391.1 L325.6 391.2 L326.3 391.5 L327.0 391.0 L327.7 391.2 L328.4 390.7 L329.1 390.6 L329.8 390.3 L330.5 390.7 L331.1 391.0 L331.8 390.9 L332.5 390.4 L333.2 389.6 L333.9 389.9 L334.6 390.5 L335.3 389.7 L336.0 390.7 L336.6 389.8 L337.3 390.4 L338.0 389.9 L338.7 390.0 L339.4 390.3 L340.1 390.0 L340.8 390.6 L341.5 390.2 L342.2 389.7 L342.8 388.4 L343.5 389.9 L344.2 390.2 L344.9 390.6 L345.6 389.6 L346.3 390.8 L347.0 390.4 L347.7 389.6 L348.3 390.3 L349.0 389.1 L349.7 389.3 L350.4 390.0 L351.1 390.0 L351.8 390.3 L352.5 390.4 L353.2 389.4 L353.8 389.2 L354.5 389.4 L355.2 389.4 L355.9 389.7 L356.6 389.2 L357.3 390.0 L358.0 389.2 L358.7 388.7 L359.3 388.7 L360.0 389.4 L360.7 389.2 L361.4 388.4 L362.1 388.2 L362.8 389.8 L363.5 389.3 L364.2 389.0 L364.8 388.5 L365.5 389.4 L366.2 388.6 L366.9 389.0 L367.6 387.7 L368.3 388.5 L369.0 388.8 L369.7 388.9 L370.3 388.3 L371.0 388.3 L371.7 389.2 L372.4 388.4 L373.1 389.2 L373.8 388.9 L374.5 389.1 L375.2 389.3 L375.9 388.9 L376.5 388.9 L377.2 388.2 L377.9 388.0 L378.6 388.5 L379.3 388.8 L380.0 387.8 L380.7 389.3 L381.4 389.2 L382.0 387.9 L382.7 388.0 L383.4 387.8 L384.1 388.4 L384.8 388.9 L385.5 388.5 L386.2 387.8 L386.9 388.5 L387.5 388.4 L388.2 388.8 L388.9 388.6 L389.6 387.5 L390.3 387.8 L391.0 388.6 L391.7 388.6 L392.4 388.3 L393.0 387.7 L393.7 388.5 L394.4 387.9 L395.1 389.1 L395.8 388.5 L396.5 387.6 L397.2 387.3 L397.9 388.4 L398.5 388.1 L399.2 387.2 L399.9 387.8 L400.6 388.0 L401.3 387.5 L402.0 387.6 L402.7 387.0 L403.4 387.1 L404.0 387.9 L404.7 387.6 L405.4 387.5 L406.1 388.3 L406.8 388.1 L407.5 387.1 L408.2 388.4 L408.9 386.9 L409.6 387.4 L410.2 387.7 L410.9 387.3 L411.6 387.2 L412.3 386.8 L413.0 387.8 L413.7 387.6 L414.4 387.8 L415.1 386.7 L415.7 387.2 L416.4 388.3 L417.1 387.9 L417.8 388.2 L418.5 387.7 L419.2 387.5 L419.9 386.3 L420.6 388.7 L421.2 387.0 L421.9 387.2 L422.6 387.8 L423.3 387.4 L424.0 387.9 L424.7 387.6 L425.4 387.0 L426.1 388.4 L426.7 386.8 L427.4 387.7 L428.1 386.5 L428.8 387.2 L429.5 386.6 L430.2 387.1 L430.9 386.8 L431.6 387.3 L432.2 387.9 L432.9 387.0 L433.6 387.0 L434.3 386.1 L435.0 388.7 L435.7 387.5 L436.4 386.7 L437.1 388.0 L437.7 387.3 L438.4 385.9 L439.1 386.3 L439.8 387.6 L440.5 386.2 L441.2 386.4 L441.9 386.6 L442.6 386.7 L443.3 386.9 L443.9 387.5 L444.6 387.3 L445.3 386.5 L446.0 386.9 L446.7 385.8 L447.4 387.1 L448.1 388.4 L448.8 387.2 L449.4 386.6 L450.1 386.7 L450.8 386.8 L451.5 387.4 L452.2 385.8 L452.9 387.1 L453.6 386.2 L454.3 386.8 L454.9 387.4 L455.6 385.6 L456.3 388.0 L457.0 387.0 L457.7 386.1 L458.4 386.6 L459.1 385.9 L459.8 386.6 L460.4 386.8 L461.1 385.2 L461.8 386.9 L462.5 386.8 L463.2 387.5 L463.9 387.2 L464.6 386.3 L465.3 386.3 L465.9 386.6 L466.6 387.1 L467.3 386.2 L468.0 387.8 L468.7 386.9 L469.4 386.7 L470.1 387.0 L470.8 386.3 L471.4 386.8 L472.1 386.9 L472.8 385.3 L473.5 386.0 L474.2 385.6 L474.9 386.4 L475.6 385.7 L476.3 385.7 L477.0 385.5 L477.6 384.6 L478.3 386.4 L479.0 386.2 L479.7 386.5 L480.4 388.9 L481.1 387.4 L481.8 386.5 L482.5 386.1 L483.1 387.0 L483.8 385.8 L484.5 385.7 L485.2 386.7 L485.9 385.4 L486.6 385.1 L487.3 386.0 L488.0 387.0 L488.6 385.3 L489.3 386.3 L490.0 386.7 L490.7 386.3 L491.4 386.8 L492.1 385.5 L492.8 385.8 L493.5 385.4 L494.1 385.8 L494.8 386.8 L495.5 386.6 L496.2 385.8 L496.9 386.9 L497.6 384.3 L498.3 386.7 L499.0 386.7 L499.6 385.5 L500.3 385.8 L501.0 386.4 L501.7 386.6 L502.4 386.1 L503.1 385.6 L503.8 385.7 L504.5 386.4 L505.1 385.9 L505.8 385.6 L506.5 385.4 L507.2 388.4 L507.9 386.7 L508.6 386.5 L509.3 386.3 L510.0 386.1 L510.7 385.6 L511.3 385.7 L512.0 386.3 L512.7 386.2 L513.4 384.8 L514.1 386.6 L514.8 385.9 L515.5 384.9 L516.2 385.7 L516.8 387.6 L517.5 385.6 L518.2 386.2 L518.9 386.1 L519.6 385.2 L520.3 385.6 L521.0 386.3 L521.7 385.4 L522.3 385.9 L523.0 386.2 L523.7 385.9 L524.4 386.0 L525.1 386.4 L525.8 386.5 L526.5 386.0 L527.2 386.7 L527.8 387.1 L528.5 385.2 L529.2 386.4 L529.9 386.2 L530.6 386.3 L531.3 386.0 L532.0 386.0 L532.7 385.9 L533.3 386.6 L534.0 385.2 L534.7 386.5 L535.4 385.0 L536.1 387.3 L536.8 386.7 L537.5 385.2 L538.2 386.2 L538.8 386.6 L539.5 386.0 L540.2 387.1 L540.9 386.1 L541.6 388.0 L542.3 386.7 L543.0 386.6 L543.7 385.5 L544.4 385.2 L545.0 386.5 L545.7 384.3 L546.4 386.3 L547.1 387.2 L547.8 387.6 L548.5 384.4 L549.2 385.9 L549.9 386.3 L550.5 386.5 L551.2 386.8 L551.9 384.7 L552.6 385.8 L553.3 384.3 L554.0 385.8 L554.7 387.7 L555.4 384.9 L556.0 386.0 L556.7 385.9 L557.4 384.4 L558.1 385.9 L558.8 384.7 L559.5 385.8 L560.2 386.5 L560.9 385.4 L561.5 386.3 L562.2 384.9 L562.9 385.2 L563.6 386.0 L564.3 385.5 L565.0 385.5 L565.7 386.2 L566.4 385.2 L567.0 386.2 L567.7 385.6 L568.4 387.2 L569.1 386.2 L569.8 386.1 L570.5 387.1 L571.2 386.9 L571.9 386.8 L572.5 385.8 L573.2 387.0 L573.9 386.0 L574.6 385.1 L575.3 386.2 L576.0 387.8 L576.7 386.2 L577.4 385.2 L578.0 386.1 L578.7 384.9 L579.4 385.3 L580.1 385.4 L580.8 386.0 L581.5 386.3 L582.2 386.1 L582.9 385.6 L583.6 385.4 L584.2 385.5 L584.9 386.0 L585.6 385.7 L586.3 385.5 L587.0 387.3 L587.7 386.6 L588.4 386.7 L589.1 386.1 L589.7 386.2 L590.4 386.2 L591.1 386.7 L591.8 385.4 L592.5 385.7 L593.2 387.4 L593.9 385.9 L594.6 386.9 L595.2 384.3 L595.9 386.3 L596.6 386.3 L597.3 386.0 L598.0 386.2 L598.7 385.9 L599.4 384.3 L600.1 385.6 L600.7 385.0 L601.4 384.9 L602.1 387.1 L602.8 384.7 L603.5 385.6 L604.2 385.5 L604.9 387.3 L605.6 385.6 L606.2 386.0 L606.9 387.0 L607.6 384.1 L608.3 385.6 L609.0 386.3 L609.7 385.8 L610.4 385.2 L611.1 384.8 L611.7 385.4 L612.4 385.0 L613.1 384.7 L613.8 387.3 L614.5 386.3 L615.2 386.9 L615.9 386.0 L616.6 384.7 L617.3 385.3 L617.9 386.8 L618.6 386.0 L619.3 384.5 L620.0 386.0 L620.7 385.6 L621.4 385.1 L622.1 387.2 L622.8 384.8 L623.4 385.3 L624.1 385.1 L624.8 386.7 L625.5 386.6 L626.2 386.6 L626.9 385.7 L627.6 386.0 L628.3 385.7 L628.9 383.9 L629.6 384.2 L630.3 386.2 L631.0 386.2 L631.7 383.8 L632.4 385.7 L633.1 384.1 L633.8 384.0 L634.4 385.9 L635.1 385.8 L635.8 385.4 L636.5 386.6 L637.2 386.7 L637.9 386.1 L638.6 384.9 L639.3 386.2 L639.9 385.9 L640.6 386.1 L641.3 386.8 L642.0 384.4 L642.7 388.0 L643.4 386.3 L644.1 385.3 L644.8 387.4 L645.4 385.3 L646.1 384.7 L646.8 386.8 L647.5 385.7 L648.2 387.0 L648.9 385.3 L649.6 385.8 L650.3 385.6 L651.0 384.3 L651.6 385.2 L652.3 384.6 L653.0 385.2 L653.7 386.9 L654.4 385.6 L655.1 385.2 L655.8 387.3 L656.5 384.3 L657.1 385.6 L657.8 385.1 L658.5 386.4 L659.2 385.6 L659.9 385.3 L660.6 385.9 L661.3 385.4 L662.0 387.5 L662.6 384.2 L663.3 386.6 L664.0 387.6 L664.7 386.4 L665.4 386.4 L666.1 385.1 L666.8 386.5 L667.5 385.2 L668.1 386.6 L668.8 383.5 L669.5 385.0 L670.2 383.8 L670.9 386.8 L671.6 385.1 L672.3 387.0 L673.0 385.4 L673.6 385.3 L674.3 387.3 L675.0 386.6 L675.7 386.6 L676.4 386.8 L677.1 385.9 L677.8 386.3 L678.5 386.9 L679.1 385.1 L679.8 384.7 L680.5 386.7 L681.2 386.0 L681.9 385.4 L682.6 385.8 L683.3 386.1 L684.0 384.4 L684.7 384.5 L685.3 384.8 L686.0 385.7 L686.7 383.7 L687.4 384.0 L688.1 386.0 L688.8 385.4 L689.5 384.0 L690.2 386.3 L690.8 384.9 L691.5 385.6 L692.2 386.5 L692.9 385.7 L693.6 387.0 L694.3 386.2 L695.0 387.9 L695.7 383.3 L696.3 384.1 L697.0 384.4 L697.7 385.3 L698.4 384.6 L699.1 384.6 L699.8 384.7 L700.5 384.9 L701.2 386.9 L701.8 385.6 L702.5 386.6 L703.2 387.3 L703.9 387.1 L704.6 385.5 L705.3 384.6 L706.0 387.2 L706.7 383.9 L707.3 384.5 L708.0 386.6 L708.7 386.5 L709.4 385.6 L710.1 384.6 L710.8 386.2 L711.5 386.9 L712.2 385.3 L712.8 387.9 L713.5 385.5 L714.2 384.6 L714.9 385.5 L715.6 384.9 L716.3 384.9 L717.0 384.7 L717.7 385.4 L718.4 386.3 L719.0 385.5 L719.7 385.3 L720.4 384.0 L721.1 383.5 L721.8 384.7 L722.5 386.1 L723.2 386.3 L723.9 385.6 L724.5 383.9 L725.2 384.9 L725.9 385.3 L726.6 386.2 L727.3 384.5 L728.0 385.3 L728.7 385.8 L729.4 385.6 L730.0 383.9 L730.7 385.8 L731.4 383.9 L732.1 384.3 L732.8 385.7 L733.5 384.5 L734.2 385.6 L734.9 386.5 L735.5 385.7 L736.2 386.4 L736.9 384.9 L737.6 385.2 L738.3 384.5 L739.0 384.0 L739.7 388.3 L740.4 384.4 L741.0 386.8 L741.7 384.8 L742.4 385.9 L743.1 384.8 L743.8 383.4 L744.5 386.9 L745.2 384.9 L745.9 385.4 L746.5 387.3 L747.2 384.3 L747.9 385.0 L748.6 385.6 L749.3 385.7 L750.0 381.4 L750.7 385.6 L751.4 387.4 L752.1 386.2 L752.7 385.5 L753.4 385.7 L754.1 385.6 L754.8 386.7 L755.5 384.7 L756.2 385.9 L756.9 387.0 L757.6 386.3 L758.2 386.0 L758.9 384.5 L759.6 384.8 L760.3 385.9 L761.0 385.6 L761.7 385.3 L762.4 383.2 L763.1 386.3 L763.7 384.9 L764.4 384.6 L765.1 386.7 L765.8 385.4 L766.5 385.4 L767.2 385.9 L767.9 384.5 L768.6 384.1 L769.2 383.8 L769.9 385.2 L770.6 384.8 L771.3 382.2 L772.0 386.2 L772.7 384.4 L773.4 383.8 L774.1 384.7 L774.7 384.1 L775.4 384.8 L776.1 383.9 L776.8 383.2 L777.5 385.2 L778.2 384.8 L778.9 385.1 L779.6 385.7 L780.2 385.2 L780.9 386.5 L781.6 384.3 L782.3 383.1 L783.0 382.8 L783.7 383.3 L784.4 386.1 L785.1 382.9 L785.8 385.7 L786.4 385.0 L787.1 383.0 L787.8 386.3 L788.5 384.0 L789.2 384.6 L789.9 385.2 L790.6 386.1 L791.3 384.7 L791.9 385.9 L792.6 384.0 L793.3 383.7 L794.0 386.6 L794.7 385.7 L795.4 385.6 L796.1 386.8 L796.8 386.5 L797.4 385.2 L798.1 385.4 L798.8 387.0 L799.5 385.7 L800.2 384.3 L800.9 386.8 L801.6 386.5 L802.3 383.6 L802.9 383.9 L803.6 387.5 L804.3 387.2 L805.0 384.9 L805.7 386.8 L806.4 385.7 L807.1 386.0 L807.8 385.0 L808.4 388.8 L809.1 388.0 L809.8 386.9 L810.5 384.0 L811.2 385.5 L811.9 387.3 L812.6 384.5 L813.3 384.3 L813.9 385.8 L814.6 385.9 L815.3 384.7 L816.0 383.8 L816.7 385.0 L817.4 384.6 L818.1 385.6 L818.8 385.9 L819.5 386.5 L820.1 385.1 L820.8 385.8 L821.5 385.7 L822.2 384.3 L822.9 384.8 L823.6 384.3 L824.3 387.7 L825.0 385.0 L825.6 386.5 L826.3 386.8 L827.0 386.8 L827.7 384.2 L828.4 384.5 L829.1 386.3 L829.8 386.7 L830.5 385.5 L831.1 386.2 L831.8 383.3 L832.5 387.3 L833.2 387.9 L833.9 385.8 L834.6 385.4 L835.3 385.1 L836.0 384.2 L836.6 382.7 L837.3 385.8 L838.0 386.1 L838.7 387.6 L839.4 385.3 L840.1 384.5 L840.8 386.1 L841.5 384.0 L842.1 385.2 L842.8 383.0 L843.5 384.4 L844.2 386.3 L844.9 385.6 L845.6 386.8 L846.3 387.0 L847.0 384.6 L847.6 383.9 L848.3 382.4 L849.0 384.8 L849.7 385.0 L850.4 385.8 L851.1 382.7 L851.8 383.8 L852.5 385.2 L853.1 383.7" stroke="#2ca02c"/>
<path d="M166.1 471.5 L166.8 464.7 L167.5 459.6 L168.2 455.2 L168.8 451.4 L169.5 448.0 L170.2 444.8 L170.9 441.9 L171.6 439.2 L172.3 436.6 L173.0 434.1 L173.7 431.8 L174.3 429.6 L175.0 427.4 L175.7 425.3 L176.4 423.3 L177.1 421.4 L177.8 419.5 L178.5 417.7 L179.2 415.9 L179.8 414.2 L180.5 412.5 L181.2 410.8 L181.9 409.2 L182.6 407.7 L183.3 406.1 L184.0 404.6 L184.7 403.1 L185.3 401.7 L186.0 400.2 L186.7 398.9 L187.4 397.5 L188.1 396.1 L188.8 394.8 L189.5 393.5 L190.2 392.2 L190.8 390.9 L191.5 389.7 L192.2 388.5 L192.9 387.3 L193.6 386.1 L194.3 384.9 L195.0 383.7 L195.7 382.6 L196.3 381.5 L197.0 380.4 L197.7 379.2 L198.4 378.2 L199.1 377.1 L199.8 376.0 L200.5 375.0 L201.2 374.0 L201.9 373.0 L202.5 372.0 L203.2 371.0 L203.9 370.0 L204.6 369.1 L205.3 368.1 L206.0 367.1 L206.7 366.2 L207.4 365.3 L208.0 364.4 L208.7 363.5 L209.4 362.5 L210.1 361.7 L210.8 360.8 L211.5 360.0 L212.2 359.1 L212.9 358.3 L213.5 357.5 L214.2 356.6 L214.9 355.7 L215.6 355.0 L216.3 354.1 L217.0 353.4 L217.7 352.5 L218.4 351.9 L219.0 351.0 L219.7 350.3 L220.4 349.5 L221.1 348.8 L221.8 348.0 L222.5 347.2 L223.2 346.5 L223.9 345.9 L224.5 345.1 L225.2 344.4 L225.9 343.7 L226.6 342.9 L227.3 342.4 L228.0 341.7 L228.7 341.1 L229.4 340.3 L230.0 339.7 L230.7 338.7 L231.4 338.3 L232.1 337.5 L232.8 336.9 L233.5 336.4 L234.2 335.7 L234.9 335.0 L235.6 334.5 L236.2 333.8 L236.9 333.2 L237.6 332.7 L238.3 332.0 L239.0 331.3 L239.7 330.7 L240.4 330.3 L241.1 329.6 L241.7 329.0 L242.4 328.4 L243.1 327.8 L243.8 327.3 L244.5 326.7 L245.2 326.3 L245.9 325.7 L246.6 325.0 L247.2 324.6 L247.9 323.9 L248.6 323.5 L249.3 323.0 L250.0 322.3 L250.7 321.9 L251.4 321.4 L252.1 320.8 L252.7 320.2 L253.4 319.4 L254.1 319.4 L254.8 318.7 L255.5 318.2 L256.2 317.6 L256.9 317.2 L257.6 317.0 L258.2 316.0 L258.9 315.8 L259.6 315.1 L260.3 314.8 L261.0 314.3 L261.7 313.7 L262.4 313.1 L263.1 312.6 L263.7 312.3 L264.4 311.7 L265.1 311.4 L265.8 310.8 L266.5 310.4 L267.2 309.9 L267.9 309.6 L268.6 309.1 L269.3 308.6 L269.9 308.1 L270.6 307.8 L271.3 307.0 L272.0 306.9 L272.7 306.3 L273.4 305.9 L274.1 305.4 L274.8 305.4 L275.4 304.4 L276.1 304.3 L276.8 304.0 L277.5 303.4 L278.2 302.6 L278.9 302.5 L279.6 302.4 L280.3 301.9 L280.9 301.2 L281.6 301.2 L282.3 300.6 L283.0 300.2 L283.7 299.4 L284.4 299.4 L285.1 298.7 L285.8 298.6 L286.4 298.3 L287.1 297.6 L287.8 297.2 L288.5 297.3 L289.2 296.5 L289.9 296.1 L290.6 295.9 L291.3 295.4 L291.9 295.0 L292.6 294.8 L293.3 294.5 L294.0 294.1 L294.7 293.7 L295.4 293.5 L296.1 293.0 L296.8 292.9 L297.4 292.2 L298.1 291.9 L298.8 291.7 L299.5 291.0 L300.2 290.4 L300.9 290.2 L301.6 290.4 L302.3 289.5 L303.0 289.4 L303.6 289.2 L304.3 288.9 L305.0 288.5 L305.7 287.8 L306.4 287.7 L307.1 287.6 L307.8 287.3 L308.5 286.9 L309.1 286.3 L309.8 285.7 L310.5 286.1 L311.2 285.4 L311.9 285.3 L312.6 285.1 L313.3 284.4 L314.0 284.1 L314.6 284.3 L315.3 283.8 L316.0 283.0 L316.7 282.9 L317.4 282.5 L318.1 282.4 L318.8 282.1 L319.5 281.5 L320.1 281.4 L320.8 281.3 L321.5 280.7 L322.2 280.2 L322.9 280.4 L323.6 279.6 L324.3 279.4 L325.0 279.6 L325.6 279.1 L326.3 278.8 L327.0 278.3 L327.7 278.0 L328.4 278.3 L329.1 278.0 L329.8 277.0 L330.5 276.9 L331.1 276.6 L331.8 276.3 L332.5 275.6 L333.2 276.1 L333.9 275.2 L334.6 275.6 L335.3 274.8 L336.0 274.3 L336.6 274.8 L337.3 274.0 L338.0 273.9 L338.7 273.6 L339.4 273.2 L340.1 273.3 L340.8 273.0 L341.5 272.2 L342.2 271.9 L342.8 272.1 L343.5 272.2 L344.2 270.7 L344.9 270.9 L345.6 270.9 L346.3 271.1 L347.0 270.7 L347.7 270.2 L348.3 270.2 L349.0 269.1 L349.7 269.3 L350.4 268.9 L351.1 269.2 L351.8 268.9 L352.5 268.7 L353.2 268.1 L353.8 268.0 L354.5 267.7 L355.2 267.3 L355.9 267.1 L356.6 266.4 L357.3 266.8 L358.0 266.9 L358.7 266.3 L359.3 265.5 L360.0 266.0 L360.7 265.6 L361.4 265.5 L362.1 265.0 L362.8 264.8 L363.5 265.0 L364.2 264.6 L364.8 263.9 L365.5 263.6 L366.2 263.4 L366.9 263.2 L367.6 263.4 L368.3 263.1 L369.0 262.4 L369.7 262.9 L370.3 262.3 L371.0 262.8 L371.7 262.0 L372.4 261.7 L373.1 261.7 L373.8 260.7 L374.5 261.1 L375.2 260.7 L375.9 260.3 L376.5 260.3 L377.2 259.1 L377.9 259.7 L378.6 259.2 L379.3 259.6 L380.0 259.0 L380.7 258.8 L381.4 258.6 L382.0 258.4 L382.7 257.9 L383.4 257.1 L384.1 257.6 L384.8 257.5 L385.5 257.4 L386.2 255.9 L386.9 256.2 L387.5 256.5 L388.2 256.2 L388.9 256.7 L389.6 256.3 L390.3 255.9 L391.0 255.8 L391.7 256.1 L392.4 255.8 L393.0 254.9 L393.7 254.8 L394.4 255.9 L395.1 254.6 L395.8 253.9 L396.5 254.7 L397.2 254.0 L397.9 254.7 L398.5 253.4 L399.2 254.2 L399.9 254.0 L400.6 253.3 L401.3 251.8 L402.0 253.0 L402.7 253.2 L403.4 252.0 L404.0 252.0 L404.7 251.2 L405.4 252.3 L406.1 252.3 L406.8 251.5 L407.5 250.9 L408.2 250.7 L408.9 250.2 L409.6 251.4 L410.2 250.9 L410.9 250.3 L411.6 249.6 L412.3 249.7 L413.0 250.0 L413.7 250.4 L414.4 249.0 L415.1 248.9 L415.7 247.8 L416.4 249.1 L417.1 247.9 L417.8 249.3 L418.5 248.7 L419.2 248.6 L419.9 248.3 L420.6 248.4 L421.2 247.9 L421.9 247.5 L422.6 247.7 L423.3 246.9 L424.0 247.1 L424.7 247.0 L425.4 245.8 L426.1 246.3 L426.7 246.1 L427.4 246.1 L428.1 245.8 L428.8 245.5 L429.5 246.2 L430.2 244.8 L430.9 244.4 L431.6 244.5 L432.2 245.3 L432.9 245.9 L433.6 245.0 L434.3 244.5 L435.0 243.8 L435.7 244.3 L436.4 244.1 L437.1 242.7 L437.7 244.1 L438.4 242.9 L439.1 242.8 L439.8 244.2 L440.5 242.9 L441.2 243.2 L441.9 243.3 L442.6 243.8 L443.3 243.4 L443.9 241.9 L444.6 242.3 L445.3 241.7 L446.0 242.4 L446.7 241.6 L447.4 241.5 L448.1 242.1 L448.8 242.2 L449.4 240.7 L450.1 240.7 L450.8 241.6 L451.5 240.8 L452.2 240.0 L452.9 239.1 L453.6 240.8 L454.3 239.5 L454.9 238.3 L455.6 239.6 L456.3 238.2 L457.0 241.0 L457.7 237.9 L458.4 238.8 L459.1 240.0 L459.8 237.9 L460.4 237.6 L461.1 237.3 L461.8 237.4 L462.5 238.2 L463.2 238.5 L463.9 238.3 L464.6 237.9 L465.3 237.5 L465.9 238.0 L466.6 237.3 L467.3 236.4 L468.0 236.7 L468.7 235.2 L469.4 235.1 L470.1 237.5 L470.8 236.8 L471.4 237.5 L472.1 237.2 L472.8 235.9 L473.5 236.9 L474.2 236.8 L474.9 236.0 L475.6 234.9 L476.3 235.7 L477.0 235.7 L477.6 234.5 L478.3 234.6 L479.0 234.5 L479.7 234.0 L480.4 235.6 L481.1 234.4 L481.8 235.0 L482.5 233.6 L483.1 233.7 L483.8 235.2 L484.5 233.1 L485.2 234.9 L485.9 232.8 L486.6 233.3 L487.3 233.9 L488.0 234.2 L488.6 233.3 L489.3 232.8 L490.0 233.1 L490.7 232.1 L491.4 233.8 L492.1 232.5 L492.8 232.4 L493.5 234.1 L494.1 232.0 L494.8 233.3 L495.5 234.6 L496.2 232.8 L496.9 232.3 L497.6 231.1 L498.3 232.1 L499.0 230.2 L499.6 230.1 L500.3 230.4 L501.0 230.2 L501.7 231.0 L502.4 231.6 L503.1 230.3 L503.8 229.6 L504.5 230.2 L505.1 230.8 L505.8 231.8 L506.5 229.4 L507.2 229.8 L507.9 231.4 L508.6 229.9 L509.3 229.1 L510.0 229.9 L510.7 229.0 L511.3 229.0 L512.0 231.1 L512.7 230.0 L513.4 229.1 L514.1 228.6 L514.8 228.0 L515.5 231.4 L516.2 229.2 L516.8 228.4 L517.5 227.8 L518.2 227.3 L518.9 229.6 L519.6 229.1 L520.3 229.6 L521.0 227.6 L521.7 229.5 L522.3 227.0 L523.0 227.1 L523.7 227.5 L524.4 229.7 L525.1 228.3 L525.8 226.7 L526.5 228.8 L527.2 227.5 L527.8 227.1 L528.5 225.9 L529.2 226.4 L529.9 226.3 L530.6 227.0 L531.3 226.4 L532.0 226.7 L532.7 225.7 L533.3 226.6 L534.0 225.2 L534.7 227.9 L535.4 224.6 L536.1 225.9 L536.8 224.3 L537.5 225.6 L538.2 224.6 L538.8 223.8 L539.5 225.9 L540.2 225.3 L540.9 225.3 L541.6 224.7 L542.3 226.4 L543.0 224.7 L543.7 224.7 L544.4 225.0 L545.0 224.1 L545.7 225.3 L546.4 222.0 L547.1 223.0 L547.8 221.3 L548.5 224.4 L549.2 224.7 L549.9 222.9 L550.5 225.2 L551.2 223.1 L551.9 224.0 L552.6 223.6 L553.3 222.9 L554.0 223.3 L554.7 221.0 L555.4 222.3 L556.0 224.5 L556.7 221.6 L557.4 224.2 L558.1 222.6 L558.8 223.7 L559.5 223.2 L560.2 220.5 L560.9 222.4 L561.5 222.5 L562.2 222.4 L562.9 222.1 L563.6 219.8 L564.3 222.9 L565.0 223.1 L565.7 220.6 L566.4 223.1 L567.0 221.7 L567.7 219.6 L568.4 220.9 L569.1 221.0 L569.8 221.0 L570.5 221.4 L571.2 221.0 L571.9 220.2 L572.5 218.8 L573.2 219.1 L573.9 220.8 L574.6 221.0 L575.3 219.4 L576.0 222.6 L576.7 220.5 L577.4 220.2 L578.0 221.1 L578.7 221.0 L579.4 219.2 L580.1 221.7 L580.8 221.0 L581.5 220.4 L582.2 219.5 L582.9 221.3 L583.6 218.4 L584.2 220.1 L584.9 219.7 L585.6 220.1 L586.3 220.1 L587.0 220.4 L587.7 217.6 L588.4 219.0 L589.1 219.1 L589.7 217.5 L590.4 219.6 L591.1 217.8 L591.8 218.6 L592.5 219.6 L593.2 217.5 L593.9 220.2 L594.6 217.6 L595.2 219.7 L595.9 218.1 L596.6 216.4 L597.3 217.7 L598.0 219.3 L598.7 218.3 L599.4 218.6 L600.1 219.2 L600.7 218.7 L601.4 217.0 L602.1 216.1 L602.8 219.6 L603.5 217.3 L604.2 216.5 L604.9 217.0 L605.6 218.7 L606.2 215.9 L606.9 219.1 L607.6 216.2 L608.3 214.6 L609.0 219.7 L609.7 216.4 L610.4 216.2 L611.1 216.4 L611.7 217.7 L612.4 217.3 L613.1 218.6 L613.8 216.1 L614.5 215.4 L615.2 216.9 L615.9 217.2 L616.6 216.1 L617.3 215.3 L617.9 215.4 L618.6 215.8 L619.3 215.4 L620.0 217.1 L620.7 219.0 L621.4 213.9 L622.1 212.7 L622.8 217.1 L623.4 216.1 L624.1 214.9 L624.8 213.9 L625.5 214.5 L626.2 213.4 L626.9 215.3 L627.6 214.9 L628.3 214.6 L628.9 215.6 L629.6 213.3 L630.3 214.0 L631.0 213.2 L631.7 215.3 L632.4 212.8 L633.1 215.9 L633.8 213.4 L634.4 217.9 L635.1 215.4 L635.8 212.6 L636.5 214.2 L637.2 213.2 L637.9 216.0 L638.6 211.2 L639.3 212.7 L639.9 213.7 L640.6 212.9 L641.3 212.9 L642.0 211.2 L642.7 213.0 L643.4 215.5 L644.1 213.2 L644.8 210.5 L645.4 211.7 L646.1 213.2 L646.8 211.6 L647.5 212.4 L648.2 211.6 L648.9 215.2 L649.6 214.3 L650.3 212.2 L651.0 213.5 L651.6 212.2 L652.3 209.7 L653.0 213.2 L653.7 212.3 L654.4 213.4 L655.1 213.6 L655.8 212.6 L656.5 214.8 L657.1 216.3 L657.8 210.4 L658.5 212.7 L659.2 211.1 L659.9 212.4 L660.6 212.3 L661.3 211.2 L662.0 210.9 L662.6 214.1 L663.3 210.2 L664.0 213.8 L664.7 211.8 L665.4 207.2 L666.1 210.9 L666.8 208.2 L667.5 211.7 L668.1 209.9 L668.8 210.7 L669.5 210.2 L670.2 212.6 L670.9 212.2 L671.6 209.7 L672.3 213.4 L673.0 212.5 L673.6 210.0 L674.3 212.0 L675.0 212.3 L675.7 212.7 L676.4 210.7 L677.1 211.5 L677.8 210.3 L678.5 210.8 L679.1 207.2 L679.8 211.1 L680.5 213.7 L681.2 210.2 L681.9 210.3 L682.6 210.2 L683.3 213.0 L684.0 207.9 L684.7 210.2 L685.3 210.0 L686.0 212.5 L686.7 209.2 L687.4 210.1 L688.1 207.0 L688.8 210.5 L689.5 212.0 L690.2 209.7 L690.8 211.6 L691.5 209.6 L692.2 212.6 L692.9 210.7 L693.6 210.7 L694.3 210.1 L695.0 210.7 L695.7 210.8 L696.3 209.2 L697.0 209.9 L697.7 208.7 L698.4 209.4 L699.1 212.3 L699.8 207.6 L700.5 204.7 L701.2 206.6 L701.8 205.9 L702.5 206.4 L703.2 207.7 L703.9 209.5 L704.6 205.5 L705.3 204.6 L706.0 206.1 L706.7 206.3 L707.3 206.9 L708.0 207.8 L708.7 207.2 L709.4 207.8 L710.1 207.1 L710.8 209.7 L711.5 209.0 L712.2 207.0 L712.8 208.7 L713.5 213.0 L714.2 207.8 L714.9 212.7 L715.6 204.2 L716.3 206.5 L717.0 206.6 L717.7 208.8 L718.4 209.6 L719.0 208.2 L719.7 207.5 L720.4 209.8 L721.1 207.7 L721.8 206.6 L722.5 207.0 L723.2 210.0 L723.9 212.2 L724.5 207.2 L725.2 208.5 L725.9 205.7 L726.6 202.9 L727.3 203.0 L728.0 205.9 L728.7 203.9 L729.4 202.8 L730.0 206.0 L730.7 205.5 L731.4 204.7 L732.1 206.5 L732.8 207.6 L733.5 208.5 L734.2 206.9 L734.9 207.5 L735.5 204.1 L736.2 206.4 L736.9 202.6 L737.6 203.0 L738.3 207.6 L739.0 202.8 L739.7 206.0 L740.4 202.4 L741.0 203.9 L741.7 204.3 L742.4 203.1 L743.1 206.3 L743.8 204.2 L744.5 204.1 L745.2 205.1 L745.9 203.6 L746.5 206.6 L747.2 203.7 L747.9 208.0 L748.6 204.0 L749.3 204.6 L750.0 203.9 L750.7 206.9 L751.4 199.2 L752.1 206.5 L752.7 205.6 L753.4 207.5 L754.1 202.5 L754.8 206.0 L755.5 202.8 L756.2 207.2 L756.9 203.8 L757.6 205.1 L758.2 202.1 L758.9 204.5 L759.6 205.3 L760.3 202.2 L761.0 205.6 L761.7 205.0 L762.4 201.5 L763.1 207.5 L763.7 201.8 L764.4 204.3 L765.1 205.5 L765.8 202.8 L766.5 201.9 L767.2 204.8 L767.9 204.3 L768.6 201.8 L769.2 201.7 L769.9 203.8 L770.6 205.2 L771.3 205.4 L772.0 204.6 L772.7 202.3 L773.4 202.8 L774.1 203.5 L774.7 200.4 L775.4 204.4 L776.1 204.6 L776.8 204.8 L777.5 199.6 L778.2 208.4 L778.9 203.6 L779.6 204.0 L780.2 204.4 L780.9 199.0 L781.6 201.7 L782.3 202.1 L783.0 205.5 L783.7 202.8 L784.4 204.7 L785.1 203.2 L785.8 202.9 L786.4 204.5 L787.1 201.5 L787.8 199.1 L788.5 200.8 L789.2 202.8 L789.9 208.1 L790.6 200.7 L791.3 201.1 L791.9 203.6 L792.6 204.7 L793.3 201.8 L794.0 205.6 L794.7 201.7 L795.4 205.6 L796.1 204.7 L796.8 201.9 L797.4 205.4 L798.1 201.9 L798.8 200.5 L799.5 204.6 L800.2 199.4 L800.9 202.5 L801.6 199.8 L802.3 200.2 L802.9 201.7 L803.6 201.7 L804.3 204.8 L805.0 202.6 L805.7 203.2 L806.4 197.4 L807.1 198.9 L807.8 204.4 L808.4 199.5 L809.1 199.7 L809.8 201.3 L810.5 198.8 L811.2 197.7 L811.9 202.0 L812.6 201.4 L813.3 199.8 L813.9 203.5 L814.6 200.3 L815.3 201.2 L816.0 202.8 L816.7 203.1 L817.4 200.8 L818.1 199.2 L818.8 200.6 L819.5 203.7 L820.1 199.3 L820.8 199.4 L821.5 198.3 L822.2 196.7 L822.9 201.9 L823.6 200.3 L824.3 201.4 L825.0 201.5 L825.6 194.2 L826.3 196.6 L827.0 203.7 L827.7 197.2 L828.4 200.5 L829.1 196.0 L829.8 198.6 L830.5 199.2 L831.1 198.9 L831.8 198.7 L832.5 199.7 L833.2 200.2 L833.9 200.4 L834.6 199.1 L835.3 203.0 L836.0 199.6 L836.6 200.1 L837.3 201.3 L838.0 198.3 L838.7 202.6 L839.4 200.0 L840.1 201.3 L840.8 197.2 L841.5 199.1 L842.1 197.4 L842.8 197.2 L843.5 202.5 L844.2 197.3 L844.9 200.7 L845.6 199.8 L846.3 199.5 L847.0 197.4 L847.6 197.4 L848.3 194.6 L849.0 199.3 L849.7 201.6 L850.4 201.7 L851.1 198.1 L851.8 195.2 L852.5 198.6 L853.1 202.2" stroke="#d62728"/>
<path d="M166.1 473.4 L166.8 471.4 L167.5 466.8 L168.2 462.3 L168.8 458.2 L169.5 454.7 L170.2 451.4 L170.9 448.6 L171.6 446.1 L172.3 443.8 L173.0 441.6 L173.7 439.7 L174.3 437.9 L175.0 436.3 L175.7 434.7 L176.4 433.3 L177.1 431.9 L177.8 430.7 L178.5 429.5 L179.2 428.5 L179.8 427.5 L180.5 426.4 L181.2 425.5 L181.9 424.6 L182.6 423.7 L183.3 423.0 L184.0 422.3 L184.7 421.4 L185.3 420.7 L186.0 420.2 L186.7 419.5 L187.4 418.8 L188.1 418.3 L188.8 417.8 L189.5 417.4 L190.2 416.7 L190.8 416.2 L191.5 415.8 L192.2 415.4 L192.9 415.0 L193.6 414.5 L194.3 414.1 L195.0 413.6 L195.7 413.5 L196.3 412.9 L197.0 412.6 L197.7 412.2 L198.4 412.1 L199.1 411.6 L199.8 411.2 L200.5 411.0 L201.2 410.9 L201.9 410.5 L202.5 410.1 L203.2 410.1 L203.9 409.8 L204.6 409.4 L205.3 409.3 L206.0 408.8 L206.7 408.8 L207.4 408.7 L208.0 408.3 L208.7 407.9 L209.4 407.9 L210.1 407.6 L210.8 407.4 L211.5 407.3 L212.2 406.9 L212.9 406.8 L213.5 406.7 L214.2 406.7 L214.9 406.5 L215.6 406.5 L216.3 406.0 L217.0 405.9 L217.7 405.6 L218.4 405.3 L219.0 405.4 L219.7 405.3 L220.4 405.0 L221.1 404.7 L221.8 404.9 L222.5 404.6 L223.2 404.6 L223.9 404.5 L224.5 404.2 L225.2 404.3 L225.9 404.2 L226.6 403.8 L227.3 403.8 L228.0 403.7 L228.7 403.6 L229.4 403.4 L230.0 403.4 L230.7 403.1 L231.4 403.0 L232.1 402.8 L232.8 402.7 L233.5 402.7 L234.2 402.8 L234.9 402.7 L235.6 402.7 L236.2 402.0 L236.9 402.5 L237.6 402.3 L238.3 402.0 L239.0 402.4 L239.7 402.2 L240.4 402.0 L241.1 402.0 L241.7 402.0 L242.4 401.8 L243.1 401.4 L243.8 401.4 L244.5 401.5 L245.2 401.5 L245.9 401.7 L246.6 401.2 L247.2 401.2 L247.9 401.4 L248.6 401.0 L249.3 401.0 L250.0 401.0 L250.7 401.0 L251.4 400.9 L252.1 400.9 L252.7 400.6 L253.4 400.5 L254.1 400.4 L254.8 400.5 L255.5 400.5 L256.2 399.9 L256.9 400.7 L257.6 400.0 L258.2 400.1 L258.9 400.0 L259.6 400.1 L260.3 400.0 L261.0 400.3 L261.7 400.2 L262.4 399.9 L263.1 400.2 L263.7 399.6 L264.4 399.5 L265.1 400.5 L265.8 400.1 L266.5 399.7 L267.2 399.7 L267.9 399.7 L268.6 399.5 L269.3 399.4 L269.9 399.3 L270.6 399.1 L271.3 399.4 L272.0 399.2 L272.7 399.7 L273.4 399.3 L274.1 399.5 L274.8 398.9 L275.4 398.6 L276.1 399.0 L276.8 399.4 L277.5 399.1 L278.2 399.0 L278.9 399.0 L279.6 398.7 L280.3 398.6 L280.9 399.5 L281.6 398.5 L282.3 399.0 L283.0 399.0 L283.7 398.4 L284.4 398.7 L285.1 399.0 L285.8 398.9 L286.4 398.6 L287.1 398.3 L287.8 398.1 L288.5 398.5 L289.2 398.5 L289.9 397.9 L290.6 398.5 L291.3 397.9 L291.9 398.2 L292.6 398.2 L293.3 398.3 L294.0 398.2 L294.7 398.4 L295.4 398.5 L296.1 398.3 L296.8 398.3 L297.4 398.0 L298.1 398.1 L298.8 398.1 L299.5 398.1 L300.2 398.1 L300.9 397.5 L301.6 397.9 L302.3 398.0 L303.0 397.9 L303.6 397.7 L304.3 398.0 L305.0 398.0 L305.7 398.0 L306.4 397.8 L307.1 397.7 L307.8 397.7 L308.5 398.2 L309.1 398.0 L309.8 398.5 L310.5 397.5 L311.2 397.3 L311.9 397.2 L312.6 397.5 L313.3 397.3 L314.0 397.6 L314.6 397.7 L315.3 398.2 L316.0 397.9 L316.7 397.9 L317.4 397.3 L318.1 397.0 L318.8 397.7 L319.5 397.3 L320.1 397.3 L320.8 397.6 L321.5 398.0 L322.2 397.6 L322.9 397.9 L323.6 397.5 L324.3 397.4 L325.0 397.5 L325.6 397.4 L326.3 397.2 L327.0 397.7 L327.7 397.0 L328.4 397.9 L329.1 397.3 L329.8 397.2 L330.5 397.6 L331.1 397.8 L331.8 397.0 L332.5 397.5 L333.2 396.9 L333.9 397.0 L334.6 397.2 L335.3 397.2 L336.0 396.8 L336.6 397.0 L337.3 397.4 L338.0 397.0 L338.7 396.8 L339.4 396.9 L340.1 396.8 L340.8 396.9 L341.5 396.9 L342.2 397.1 L342.8 397.3 L343.5 396.5 L344.2 397.1 L344.9 396.8 L345.6 397.3 L346.3 396.7 L347.0 397.1 L347.7 395.7 L348.3 397.2 L349.0 397.2 L349.7 396.5 L350.4 396.4 L351.1 397.5 L351.8 396.6 L352.5 396.4 L353.2 397.2 L353.8 396.5 L354.5 396.9 L355.2 397.1 L355.9 396.9 L356.6 396.9 L357.3 397.3 L358.0 395.8 L358.7 396.9 L359.3 397.0 L360.0 396.4 L360.7 396.8 L361.4 396.3 L362.1 396.9 L362.8 396.6 L363.5 396.7 L364.2 396.6 L364.8 396.7 L365.5 396.7 L366.2 396.0 L366.9 396.9 L367.6 396.9 L368.3 396.8 L369.0 396.4 L369.7 396.4 L370.3 396.2 L371.0 397.1 L371.7 396.5 L372.4 396.6 L373.1 396.7 L373.8 396.4 L374.5 397.3 L375.2 396.4 L375.9 396.4 L376.5 397.0 L377.2 396.5 L377.9 395.8 L378.6 396.6 L379.3 396.3 L380.0 396.6 L380.7 396.8 L381.4 396.8 L382.0 396.6 L382.7 395.9 L383.4 396.1 L384.1 396.6 L384.8 395.9 L385.5 396.4 L386.2 396.6 L386.9 396.1 L387.5 396.7 L388.2 397.0 L388.9 395.8 L389.6 397.1 L390.3 396.1 L391.0 396.9 L391.7 396.2 L392.4 396.2 L393.0 396.4 L393.7 397.2 L394.4 396.3 L395.1 396.2 L395.8 396.5 L396.5 396.3 L397.2 395.8 L397.9 396.6 L398.5 396.1 L399.2 396.7 L399.9 396.1 L400.6 396.0 L401.3 395.2 L402.0 395.9 L402.7 396.1 L403.4 395.7 L404.0 396.7 L404.7 395.9 L405.4 396.4 L406.1 396.4 L406.8 395.6 L407.5 396.1 L408.2 395.7 L408.9 397.0 L409.6 396.2 L410.2 396.4 L410.9 396.2 L411.6 397.0 L412.3 395.6 L413.0 395.9 L413.7 396.4 L414.4 396.5 L415.1 396.3 L415.7 395.3 L416.4 396.1 L417.1 396.2 L417.8 395.7 L418.5 396.1 L419.2 396.1 L419.9 395.8 L420.6 396.1 L421.2 395.7 L421.9 396.7 L422.6 396.1 L423.3 396.1 L424.0 396.0 L424.7 396.1 L425.4 396.3 L426.1 396.1 L426.7 395.5 L427.4 396.2 L428.1 396.5 L428.8 395.5 L429.5 395.4 L430.2 396.0 L430.9 395.8 L431.6 396.3 L432.2 395.9 L432.9 395.2 L433.6 395.3 L434.3 395.7 L435.0 395.9 L435.7 396.4 L436.4 395.4 L437.1 395.4 L437.7 395.2 L438.4 394.8 L439.1 395.6 L439.8 395.3 L440.5 396.3 L441.2 395.3 L441.9 395.5 L442.6 395.2 L443.3 395.5 L443.9 395.7 L444.6 395.2 L445.3 396.4 L446.0 395.8 L446.7 395.3 L447.4 396.2 L448.1 396.4 L448.8 395.7 L449.4 395.9 L450.1 395.8 L450.8 395.7 L451.5 396.4 L452.2 395.8 L452.9 395.5 L453.6 396.2 L454.3 396.0 L454.9 396.6 L455.6 395.5 L456.3 395.0 L457.0 396.7 L457.7 395.5 L458.4 395.4 L459.1 396.1 L459.8 396.1 L460.4 396.4 L461.1 396.2 L461.8 395.7 L462.5 395.4 L463.2 395.7 L463.9 395.2 L464.6 395.7 L465.3 396.4 L465.9 395.1 L466.6 395.2 L467.3 396.1 L468.0 394.8 L468.7 395.4 L469.4 395.6 L470.1 394.7 L470.8 397.1 L471.4 396.7 L472.1 395.4 L472.8 395.9 L473.5 396.4 L474.2 395.1 L474.9 395.6 L475.6 396.5 L476.3 396.2 L477.0 395.3 L477.6 394.7 L478.3 396.9 L479.0 395.7 L479.7 396.2 L480.4 396.8 L481.1 395.8 L481.8 396.6 L482.5 396.0 L483.1 394.9 L483.8 395.7 L484.5 395.5 L485.2 395.6 L485.9 395.9 L486.6 395.5 L487.3 396.6 L488.0 396.1 L488.6 395.3 L489.3 396.1 L490.0 395.9 L490.7 395.0 L491.4 394.8 L492.1 396.1 L492.8 396.1 L493.5 395.2 L494.1 395.4 L494.8 396.0 L495.5 395.0 L496.2 395.0 L496.9 395.2 L497.6 393.5 L498.3 394.3 L499.0 394.7 L499.6 394.6 L500.3 393.6 L501.0 394.6 L501.7 395.8 L502.4 395.2 L503.1 395.3 L503.8 395.9 L504.5 395.2 L505.1 395.4 L505.8 395.5 L506.5 395.8 L507.2 395.0 L507.9 396.5 L508.6 394.9 L509.3 395.3 L510.0 395.0 L510.7 396.6 L511.3 394.1 L512.0 396.2 L512.7 395.7 L513.4 394.8 L514.1 395.6 L514.8 395.5 L515.5 396.8 L516.2 395.7 L516.8 395.3 L517.5 395.1 L518.2 395.6 L518.9 395.4 L519.6 395.3 L520.3 396.1 L521.0 396.2 L521.7 394.5 L522.3 396.2 L523.0 394.9 L523.7 395.7 L524.4 395.0 L525.1 396.2 L525.8 395.5 L526.5 395.6 L527.2 395.7 L527.8 395.2 L528.5 395.8 L529.2 395.4 L529.9 395.6 L530.6 394.8 L531.3 395.4 L532.0 396.3 L532.7 395.7 L533.3 395.4 L534.0 395.8 L534.7 394.5 L535.4 395.0 L536.1 394.7 L536.8 395.7 L537.5 395.5 L538.2 394.6 L538.8 396.2 L539.5 395.1 L540.2 395.3 L540.9 395.6 L541.6 395.3 L542.3 396.2 L543.0 395.2 L543.7 396.2 L544.4 396.4 L545.0 394.9 L545.7 396.4 L546.4 397.4 L547.1 395.2 L547.8 396.4 L548.5 398.2 L549.2 396.1 L549.9 395.3 L550.5 395.6 L551.2 394.6 L551.9 395.7 L552.6 395.1 L553.3 396.0 L554.0 395.3 L554.7 394.6 L555.4 395.3 L556.0 395.7 L556.7 396.9 L557.4 395.8 L558.1 396.4 L558.8 395.0 L559.5 395.8 L560.2 395.2 L560.9 396.0 L561.5 394.0 L562.2 396.1 L562.9 395.4 L563.6 393.7 L564.3 395.4 L565.0 396.1 L565.7 395.1 L566.4 394.8 L567.0 394.8 L567.7 396.8 L568.4 395.3 L569.1 396.9 L569.8 394.1 L570.5 395.3 L571.2 395.7 L571.9 394.8 L572.5 395.0 L573.2 396.3 L573.9 394.4 L574.6 395.6 L575.3 396.6 L576.0 394.5 L576.7 394.5 L577.4 394.6 L578.0 395.1 L578.7 396.1 L579.4 395.0 L580.1 394.2 L580.8 394.8 L581.5 394.4 L582.2 395.9 L582.9 394.6 L583.6 394.5 L584.2 396.4 L584.9 396.3 L585.6 395.7 L586.3 395.4 L587.0 395.0 L587.7 395.5 L588.4 395.5 L589.1 395.6 L589.7 395.6 L590.4 395.2 L591.1 395.2 L591.8 395.6 L592.5 395.3 L593.2 395.8 L593.9 394.9 L594.6 395.9 L595.2 394.4 L595.9 395.5 L596.6 395.3 L597.3 396.1 L598.0 395.7 L598.7 395.4 L599.4 395.5 L600.1 395.7 L600.7 396.2 L601.4 395.3 L602.1 395.4 L602.8 395.2 L603.5 394.6 L604.2 395.6 L604.9 397.0 L605.6 395.5 L606.2 396.7 L606.9 396.3 L607.6 394.4 L608.3 394.7 L609.0 395.7 L609.7 395.7 L610.4 395.5 L611.1 396.6 L611.7 394.8 L612.4 395.5 L613.1 393.8 L613.8 395.9 L614.5 394.2 L615.2 395.6 L615.9 394.5 L616.6 396.2 L617.3 394.9 L617.9 396.0 L618.6 396.2 L619.3 395.7 L620.0 395.2 L620.7 395.4 L621.4 394.3 L622.1 394.9 L622.8 397.5 L623.4 395.7 L624.1 397.0 L624.8 395.9 L625.5 394.8 L626.2 396.4 L626.9 396.3 L627.6 395.4 L628.3 395.7 L628.9 394.4 L629.6 395.4 L630.3 395.2 L631.0 394.3 L631.7 395.9 L632.4 395.7 L633.1 396.6 L633.8 395.5 L634.4 394.9 L635.1 394.5 L635.8 395.5 L636.5 396.2 L637.2 396.1 L637.9 396.7 L638.6 395.5 L639.3 394.4 L639.9 397.0 L640.6 396.9 L641.3 394.1 L642.0 396.4 L642.7 394.8 L643.4 396.4 L644.1 394.8 L644.8 394.8 L645.4 395.2 L646.1 394.8 L646.8 395.3 L647.5 394.8 L648.2 393.8 L648.9 394.4 L649.6 395.8 L650.3 395.9 L651.0 395.4 L651.6 395.2 L652.3 395.0 L653.0 395.7 L653.7 394.8 L654.4 395.2 L655.1 394.9 L655.8 395.2 L656.5 394.7 L657.1 396.1 L657.8 393.9 L658.5 395.0 L659.2 395.0 L659.9 394.9 L660.6 394.4 L661.3 394.7 L662.0 395.2 L662.6 395.4 L663.3 396.6 L664.0 395.1 L664.7 395.6 L665.4 395.7 L666.1 393.6 L666.8 397.1 L667.5 395.6 L668.1 394.5 L668.8 394.9 L669.5 394.6 L670.2 396.6 L670.9 396.3 L671.6 395.0 L672.3 395.6 L673.0 394.1 L673.6 395.4 L674.3 395.5 L675.0 395.1 L675.7 395.7 L676.4 395.3 L677.1 395.7 L677.8 395.3 L678.5 395.6 L679.1 395.0 L679.8 396.4 L680.5 396.3 L681.2 394.7 L681.9 394.8 L682.6 395.8 L683.3 395.2 L684.0 396.0 L684.7 393.5 L685.3 396.7 L686.0 393.9 L686.7 395.9 L687.4 394.9 L688.1 395.5 L688.8 395.6 L689.5 394.5 L690.2 394.5 L690.8 395.3 L691.5 395.9 L692.2 393.4 L692.9 393.9 L693.6 395.0 L694.3 395.4 L695.0 395.0 L695.7 395.3 L696.3 394.2 L697.0 395.9 L697.7 395.2 L698.4 395.8 L699.1 394.0 L699.8 393.4 L700.5 395.1 L701.2 394.5 L701.8 393.7 L702.5 395.3 L703.2 395.9 L703.9 394.4 L704.6 395.1 L705.3 395.8 L706.0 394.5 L706.7 395.4 L707.3 397.0 L708.0 395.2 L708.7 395.6 L709.4 393.9 L710.1 395.5 L710.8 395.7 L711.5 395.0 L712.2 395.2 L712.8 396.8 L713.5 395.5 L714.2 395.7 L714.9 394.2 L715.6 393.2 L716.3 396.3 L717.0 396.0 L717.7 396.0 L718.4 396.0 L719.0 395.9 L719.7 395.2 L720.4 394.3 L721.1 396.2 L721.8 396.4 L722.5 396.7 L723.2 394.1 L723.9 393.8 L724.5 396.2 L725.2 396.3 L725.9 395.0 L726.6 394.1 L727.3 394.2 L728.0 394.9 L728.7 394.4 L729.4 394.8 L730.0 395.6 L730.7 393.3 L731.4 395.0 L732.1 396.1 L732.8 395.7 L733.5 396.7 L734.2 395.5 L734.9 394.3 L735.5 396.5 L736.2 394.4 L736.9 393.5 L737.6 395.2 L738.3 397.0 L739.0 396.5 L739.7 395.8 L740.4 396.9 L741.0 396.9 L741.7 395.9 L742.4 395.8 L743.1 395.2 L743.8 396.8 L744.5 394.0 L745.2 394.8 L745.9 394.9 L746.5 396.3 L747.2 394.1 L747.9 396.0 L748.6 394.2 L749.3 394.6 L750.0 396.6 L750.7 396.1 L751.4 393.9 L752.1 394.6 L752.7 395.6 L753.4 395.1 L754.1 395.3 L754.8 396.2 L755.5 395.6 L756.2 396.1 L756.9 395.9 L757.6 394.9 L758.2 396.3 L758.9 394.8 L759.6 395.4 L760.3 394.8 L761.0 394.6 L761.7 394.3 L762.4 394.8 L763.1 394.7 L763.7 395.4 L764.4 394.6 L765.1 396.1 L765.8 395.3 L766.5 394.4 L767.2 395.1 L767.9 394.6 L768.6 396.1 L769.2 394.1 L769.9 395.7 L770.6 394.9 L771.3 395.4 L772.0 394.3 L772.7 395.6 L773.4 395.9 L774.1 396.6 L774.7 395.0 L775.4 395.9 L776.1 394.2 L776.8 393.6 L777.5 397.1 L778.2 396.2 L778.9 394.7 L779.6 393.8 L780.2 394.9 L780.9 394.8 L781.6 394.5 L782.3 394.6 L783.0 393.6 L783.7 394.4 L784.4 396.1 L785.1 395.6 L785.8 395.0 L786.4 395.9 L787.1 395.2 L787.8 395.6 L788.5 395.8 L789.2 394.5 L789.9 395.6 L790.6 396.3 L791.3 395.9 L791.9 395.3 L792.6 393.0 L793.3 394.8 L794.0 393.7 L794.7 394.5 L795.4 397.1 L796.1 394.7 L796.8 395.8 L797.4 396.5 L798.1 396.1 L798.8 393.2 L799.5 396.4 L800.2 395.5 L800.9 393.8 L801.6 394.6 L802.3 396.9 L802.9 395.3 L803.6 395.6 L804.3 395.3 L805.0 394.4 L805.7 395.8 L806.4 395.6 L807.1 393.8 L807.8 396.9 L808.4 395.5 L809.1 394.7 L809.8 396.5 L810.5 395.9 L811.2 396.6 L811.9 395.4 L812.6 396.4 L813.3 395.1 L813.9 394.7 L814.6 395.6 L815.3 396.0 L816.0 395.2 L816.7 395.5 L817.4 396.6 L818.1 394.2 L818.8 395.2 L819.5 394.4 L820.1 396.8 L820.8 394.6 L821.5 393.4 L822.2 394.8 L822.9 396.9 L823.6 395.7 L824.3 395.8 L825.0 395.4 L825.6 395.5 L826.3 394.6 L827.0 395.6 L827.7 395.0 L828.4 395.9 L829.1 395.3 L829.8 394.3 L830.5 395.8 L831.1 394.6 L831.8 396.2 L832.5 395.7 L833.2 395.6 L833.9 393.9 L834.6 395.9 L835.3 393.9 L836.0 396.8 L836.6 395.4 L837.3 394.2 L838.0 394.3 L838.7 395.9 L839.4 396.1 L840.1 394.1 L840.8 396.1 L841.5 394.1 L842.1 395.2 L842.8 394.5 L843.5 392.3 L844.2 393.2 L844.9 394.1 L845.6 396.3 L846.3 394.7 L847.0 395.0 L847.6 395.0 L848.3 393.4 L849.0 396.8 L849.7 394.4 L850.4 394.8 L851.1 395.7 L851.8 393.1 L852.5 396.3 L853.1 395.0" stroke="#9467bd"/>
</g>
<g stroke="#000" stroke-width="2" fill="none"><line x1="165.40" y1="489.00" x2="165.40" y2="495.60"/><line x1="302.95" y1="489.00" x2="302.95" y2="495.60"/><line x1="440.50" y1="489.00" x2="440.50" y2="495.60"/><line x1="578.05" y1="489.00" x2="578.05" y2="495.60"/><line x1="715.60" y1="489.00" x2="715.60" y2="495.60"/><line x1="853.15" y1="489.00" x2="853.15" y2="495.60"/><line x1="158.90" y1="489.00" x2="165.40" y2="489.00"/><line x1="158.90" y1="394.02" x2="165.40" y2="394.02"/><line x1="158.90" y1="299.04" x2="165.40" y2="299.04"/><line x1="158.90" y1="204.06" x2="165.40" y2="204.06"/><line x1="158.90" y1="109.08" x2="165.40" y2="109.08"/><line x1="158.90" y1="14.10" x2="165.40" y2="14.10"/></g>
<rect x="165.4" y="14.1" width="687.75" height="474.90" fill="none" stroke="#000" stroke-width="2"/>
<g font-size="35.2"><text x="166.9" y="532" text-anchor="middle" textLength="17.7" lengthAdjust="spacingAndGlyphs">0</text><text x="304.5" y="532" text-anchor="middle" textLength="56.9" lengthAdjust="spacingAndGlyphs">200</text><text x="442.0" y="532" text-anchor="middle" textLength="56.9" lengthAdjust="spacingAndGlyphs">400</text><text x="579.5" y="532" text-anchor="middle" textLength="56.9" lengthAdjust="spacingAndGlyphs">600</text><text x="717.1" y="532" text-anchor="middle" textLength="56.9" lengthAdjust="spacingAndGlyphs">800</text><text x="853.9" y="532" text-anchor="middle" textLength="75.4" lengthAdjust="spacingAndGlyphs">1000</text><text x="144.0" y="499.7" text-anchor="end" textLength="18.8" lengthAdjust="spacingAndGlyphs">0</text><text x="143.6" y="405.5" text-anchor="end" textLength="87.0" lengthAdjust="spacingAndGlyphs">0.005</text><text x="143.6" y="311.3" text-anchor="end" textLength="87.0" lengthAdjust="spacingAndGlyphs">0.010</text><text x="143.6" y="217.1" text-anchor="end" textLength="87.0" lengthAdjust="spacingAndGlyphs">0.015</text><text x="143.6" y="122.9" text-anchor="end" textLength="87.0" lengthAdjust="spacingAndGlyphs">0.020</text><text x="143.6" y="28.7" text-anchor="end" textLength="87.0" lengthAdjust="spacingAndGlyphs">0.025</text></g>
<line x1="180.9" y1="39.3" x2="222.5" y2="39.3" stroke="#1f77b4" stroke-width="3.1"/><text x="235.0" y="51.1" font-size="31.3" textLength="49.6" lengthAdjust="spacingAndGlyphs">LM</text><line x1="180.9" y1="67.4" x2="222.5" y2="67.4" stroke="#ff7f0e" stroke-width="3.1"/><text x="234.6" y="78.7" font-size="31.3" textLength="49.6" lengthAdjust="spacingAndGlyphs">OR</text><line x1="180.9" y1="95.6" x2="222.5" y2="95.6" stroke="#2ca02c" stroke-width="3.1"/><text x="234.6" y="106.3" font-size="31.3" textLength="57.0" lengthAdjust="spacingAndGlyphs">WC</text><line x1="180.9" y1="123.7" x2="222.5" y2="123.7" stroke="#d62728" stroke-width="3.1"/><text x="235.6" y="133.9" font-size="31.3" textLength="53.0" lengthAdjust="spacingAndGlyphs">HM</text><line x1="180.9" y1="151.9" x2="222.5" y2="151.9" stroke="#9467bd" stroke-width="3.1"/><text x="235.6" y="161.5" font-size="31.3" textLength="39.3" lengthAdjust="spacingAndGlyphs">FA</text>
<text x="509.8" y="566.7" font-size="32.6" font-style="italic" style="stroke-width:0.2px" text-anchor="middle" textLength="25.0" lengthAdjust="spacingAndGlyphs">n</text>
<g transform="translate(28.4,274.3) rotate(-90)"><text x="0" y="0" font-size="31" font-style="italic" style="stroke:none" textLength="19.5" lengthAdjust="spacingAndGlyphs">σ</text><text x="21.0" y="8" font-size="25.5" textLength="23.2" lengthAdjust="spacingAndGlyphs">M</text></g>
</svg>
</body></html>
